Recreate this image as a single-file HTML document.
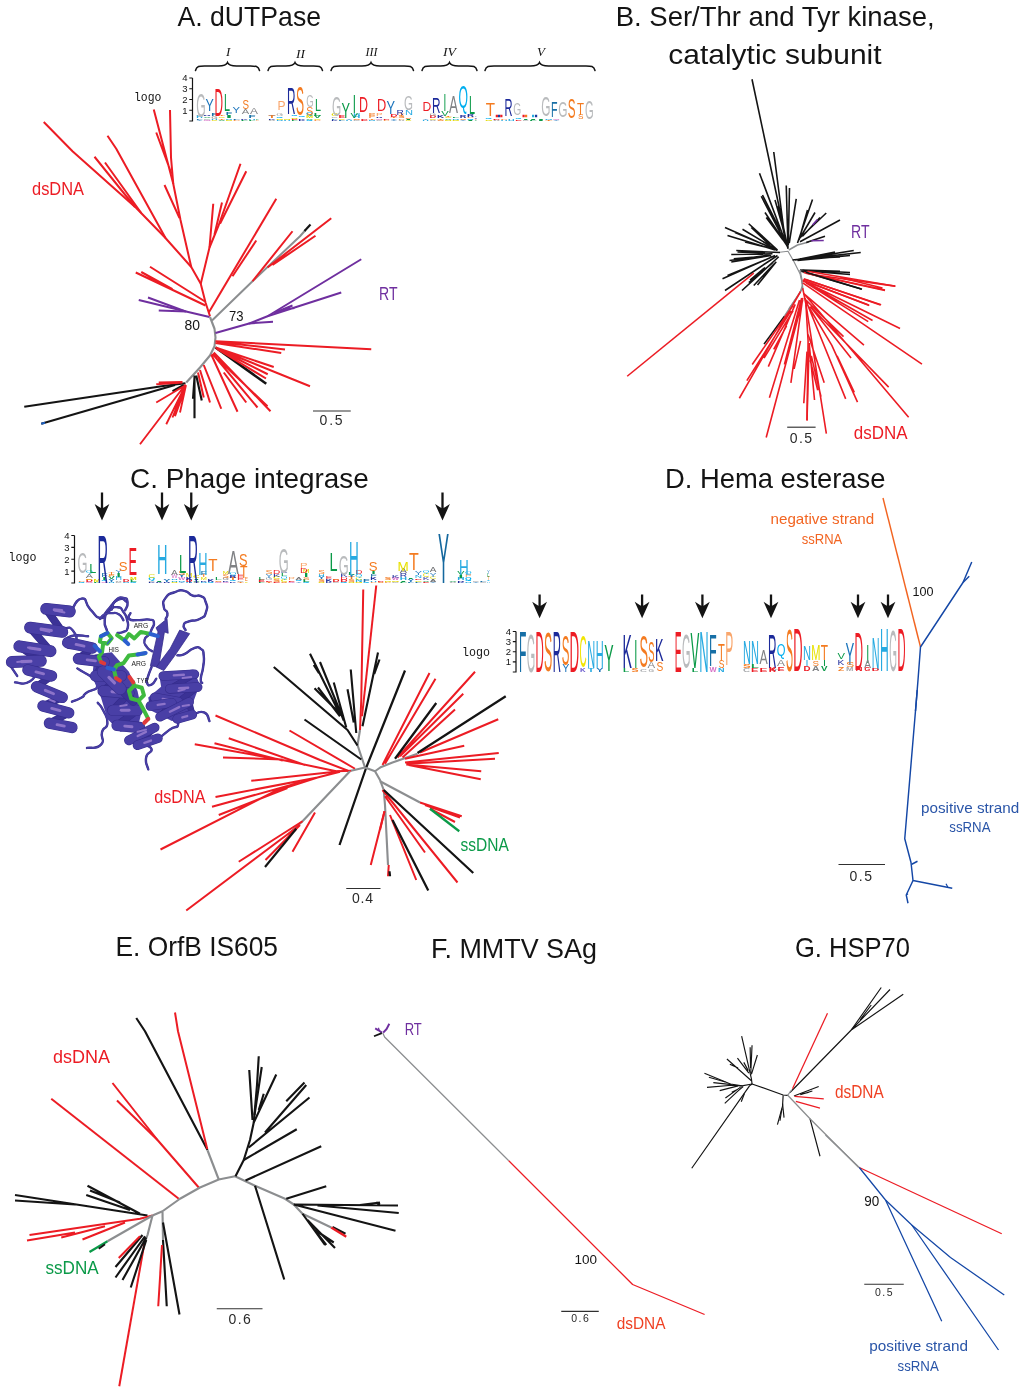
<!DOCTYPE html>
<html><head><meta charset="utf-8"><title>Figure</title>
<style>html,body{margin:0;padding:0;background:#fff}svg{display:block}text{font-family:"Liberation Sans",sans-serif}</style></head>
<body>
<svg width="1024" height="1391" viewBox="0 0 1024 1391">
<rect width="1024" height="1391" fill="#fff"/>
<text x="177.5" y="26" font-size="27.5" fill="#141414" style='font-family:"Liberation Sans", sans-serif' textLength="143.5" lengthAdjust="spacingAndGlyphs" >A. dUTPase</text>
<text x="226" y="56" font-size="13" fill="#141414" style='font-family:"Liberation Serif", serif' font-style="italic">I</text>
<text x="296" y="57.5" font-size="13" fill="#141414" style='font-family:"Liberation Serif", serif' font-style="italic" textLength="9" lengthAdjust="spacingAndGlyphs">II</text>
<text x="365.5" y="56" font-size="13" fill="#141414" style='font-family:"Liberation Serif", serif' font-style="italic" textLength="12" lengthAdjust="spacingAndGlyphs">III</text>
<text x="443" y="56" font-size="13" fill="#141414" style='font-family:"Liberation Serif", serif' font-style="italic" textLength="13" lengthAdjust="spacingAndGlyphs">IV</text>
<text x="537" y="56" font-size="13" fill="#141414" style='font-family:"Liberation Serif", serif' font-style="italic">V</text>
<path d="M195.5 70.5C196.5 66 199.5 66 204.5 66L218.5 66C223.5 66 226.5 65 227.5 62.5C228.5 65 231.5 66 236.5 66L250.5 66C255.5 66 258.5 66 259.5 70.5" stroke="#141414" stroke-width="1.5" fill="none" stroke-linecap="round"/>
<path d="M268 70.5C269 66 272 66 277 66L286 66C291 66 294 65 295 62.5C296 65 299 66 304 66L313.5 66C318.5 66 321.5 66 322.5 70.5" stroke="#141414" stroke-width="1.5" fill="none" stroke-linecap="round"/>
<path d="M331 70.5C332 66 335 66 340 66L362 66C367 66 370 65 371 62.5C372 65 375 66 380 66L404.5 66C409.5 66 412.5 66 413.5 70.5" stroke="#141414" stroke-width="1.5" fill="none" stroke-linecap="round"/>
<path d="M422 70.5C423 66 426 66 431 66L440.5 66C445.5 66 448.5 65 449.5 62.5C450.5 65 453.5 66 458.5 66L468 66C473 66 476 66 477 70.5" stroke="#141414" stroke-width="1.5" fill="none" stroke-linecap="round"/>
<path d="M485 70.5C486 66 489 66 494 66L530.5 66C535.5 66 538.5 65 539.5 62.5C540.5 65 543.5 66 548.5 66L586 66C591 66 594 66 595 70.5" stroke="#141414" stroke-width="1.5" fill="none" stroke-linecap="round"/>
<text x="187.5" y="81.42" font-size="9.5" fill="#141414" text-anchor="end" font-family='"Liberation Sans", sans-serif'>4</text>
<text x="187.5" y="92.17" font-size="9.5" fill="#141414" text-anchor="end" font-family='"Liberation Sans", sans-serif'>3</text>
<text x="187.5" y="102.92" font-size="9.5" fill="#141414" text-anchor="end" font-family='"Liberation Sans", sans-serif'>2</text>
<text x="187.5" y="113.67" font-size="9.5" fill="#141414" text-anchor="end" font-family='"Liberation Sans", sans-serif'>1</text>
<path d="M189.3 121L192.5 121L192.5 78M192.5 78L189.3 78M192.5 88.75L189.3 88.75M192.5 99.5L189.3 99.5M192.5 110.25L189.3 110.25" stroke="#141414" stroke-width="1.2" fill="none"/>
<text x="134" y="100.5" font-size="12" fill="#141414" style='font-family:"Liberation Mono", monospace' textLength="27.5" lengthAdjust="spacingAndGlyphs" >logo</text>
<text transform="matrix(0.0491 0 0 0.0081 196.3 121)" font-size="200" fill="#1c75bc" font-weight="bold">Y</text>
<text transform="matrix(0.0535 0 0 0.0087 196.3 119.68)" font-size="200" fill="#176fa6" font-weight="bold">F</text>
<text transform="matrix(0.0453 0 0 0.0128 196.3 118.27)" font-size="200" fill="#27aae1" font-weight="bold">H</text>
<text transform="matrix(0.0418 0 0 0.0094 196.3 116.29)" font-size="200" fill="#9a9c9e" font-weight="bold">G</text>
<text transform="matrix(0.0385 0 0 0.0065 203.42 121)" font-size="200" fill="#d671c6" font-weight="bold">W</text>
<text transform="matrix(0.0466 0 0 0.0113 203.42 119.88)" font-size="200" fill="#9a9c9e" font-weight="bold">G</text>
<text transform="matrix(0.0547 0 0 0.0110 203.42 118.1)" font-size="200" fill="#0b9a48" font-weight="bold">V</text>
<text transform="matrix(0.0505 0 0 0.0097 203.42 116.38)" font-size="200" fill="#1c2a9a" font-weight="bold">R</text>
<text transform="matrix(0.0446 0 0 0.0050 211.3 120.99)" font-size="200" fill="#e3d800" font-weight="bold">C</text>
<text transform="matrix(0.0446 0 0 0.0073 211.3 120.09)" font-size="200" fill="#27aae1" font-weight="bold">H</text>
<text transform="matrix(0.0412 0 0 0.0166 211.3 118.85)" font-size="200" fill="#9a9c9e" font-weight="bold">G</text>
<text transform="matrix(0.0526 0 0 0.0164 211.3 116.32)" font-size="200" fill="#176fa6" font-weight="bold">F</text>
<text transform="matrix(0.0522 0 0 0.0063 218.32 121)" font-size="200" fill="#0b9a48" font-weight="bold">V</text>
<text transform="matrix(0.0569 0 0 0.0117 218.32 119.93)" font-size="200" fill="#f47b20" font-weight="bold">T</text>
<text transform="matrix(0.0482 0 0 0.0120 218.32 118.09)" font-size="200" fill="#e3d800" font-weight="bold">C</text>
<text transform="matrix(0.0569 0 0 0.0097 218.32 116.22)" font-size="200" fill="#f47b20" font-weight="bold">T</text>
<text transform="matrix(0.0390 0 0 0.0063 225.86 121)" font-size="200" fill="#e3d800" font-weight="bold">M</text>
<text transform="matrix(0.0452 0 0 0.0127 225.86 119.93)" font-size="200" fill="#27aae1" font-weight="bold">N</text>
<text transform="matrix(0.1163 0 0 0.0166 225.86 117.98)" font-size="200" fill="#0b9a48" font-weight="bold">I</text>
<text transform="matrix(0.0534 0 0 0.0147 225.86 115.49)" font-size="200" fill="#176fa6" font-weight="bold">F</text>
<text transform="matrix(0.0543 0 0 0.0069 232.97 121)" font-size="200" fill="#f7964f" font-weight="bold">P</text>
<text transform="matrix(0.0592 0 0 0.0122 232.97 119.85)" font-size="200" fill="#176fa6" font-weight="bold">F</text>
<text transform="matrix(0.0589 0 0 0.0066 240.8 121)" font-size="200" fill="#0b9a48" font-weight="bold">L</text>
<text transform="matrix(0.0499 0 0 0.0094 240.8 119.89)" font-size="200" fill="#1c2a9a" font-weight="bold">K</text>
<text transform="matrix(0.0578 0 0 0.0055 248.58 121)" font-size="200" fill="#0b9a48" font-weight="bold">L</text>
<text transform="matrix(0.0489 0 0 0.0103 248.58 120.05)" font-size="200" fill="#27aae1" font-weight="bold">H</text>
<text transform="matrix(0.0578 0 0 0.0151 248.58 118.43)" font-size="200" fill="#176fa6" font-weight="bold">F</text>
<text transform="matrix(0.0186 0 0 0.0086 256.23 121)" font-size="200" fill="#f7964f" font-weight="bold">P</text>
<text transform="matrix(0.0203 0 0 0.0106 256.23 119.61)" font-size="200" fill="#0b9a48" font-weight="bold">L</text>
<text transform="matrix(0.0509 0 0 0.0085 268.3 121)" font-size="200" fill="#6d6e71" font-weight="bold">A</text>
<text transform="matrix(0.0509 0 0 0.0078 268.3 119.63)" font-size="200" fill="#1c2a9a" font-weight="bold">K</text>
<text transform="matrix(0.0601 0 0 0.0151 268.3 118.35)" font-size="200" fill="#f47b20" font-weight="bold">T</text>
<text transform="matrix(0.0509 0 0 0.0108 268.3 116.07)" font-size="200" fill="#6d6e71" font-weight="bold">A</text>
<text transform="matrix(0.0484 0 0 0.0056 276.24 121)" font-size="200" fill="#27aae1" font-weight="bold">N</text>
<text transform="matrix(0.0417 0 0 0.0109 276.24 120.02)" font-size="200" fill="#e3d800" font-weight="bold">M</text>
<text transform="matrix(0.0447 0 0 0.0104 276.24 117.91)" font-size="200" fill="#00aeef" font-weight="bold">Q</text>
<text transform="matrix(0.0447 0 0 0.0173 276.24 116.22)" font-size="200" fill="#9a9c9e">G</text>
<text transform="matrix(0.0469 0 0 0.0084 283.8 121)" font-size="200" fill="#27aae1" font-weight="bold">H</text>
<text transform="matrix(0.0404 0 0 0.0097 283.8 119.63)" font-size="200" fill="#e3d800" font-weight="bold">M</text>
<text transform="matrix(0.0538 0 0 0.0059 291.15 121)" font-size="200" fill="#0b9a48" font-weight="bold">L</text>
<text transform="matrix(0.0494 0 0 0.0091 291.15 119.98)" font-size="200" fill="#ed1c24" font-weight="bold">E</text>
<text transform="matrix(0.0393 0 0 0.0118 291.15 118.52)" font-size="200" fill="#e3d800" font-weight="bold">M</text>
<text transform="matrix(0.0421 0 0 0.0081 291.15 116.38)" font-size="200" fill="#00aeef" font-weight="bold">Q</text>
<text transform="matrix(0.0499 0 0 0.0077 298.32 121)" font-size="200" fill="#1c2a9a" font-weight="bold">K</text>
<text transform="matrix(0.0499 0 0 0.0118 298.32 119.73)" font-size="200" fill="#1c2a9a" font-weight="bold">K</text>
<text transform="matrix(0.0460 0 0 0.0125 298.32 117.41)" font-size="200" fill="#00aeef" font-weight="bold">Q</text>
<text transform="matrix(0.0457 0 0 0.0059 306.1 120.77)" font-size="200" fill="#00aeef" font-weight="bold">Q</text>
<text transform="matrix(0.0537 0 0 0.0110 306.1 119.74)" font-size="200" fill="#0b9a48" font-weight="bold">V</text>
<text transform="matrix(0.0427 0 0 0.0167 306.1 118.02)" font-size="200" fill="#e3d800" font-weight="bold">M</text>
<text transform="matrix(0.0457 0 0 0.0129 306.1 115)" font-size="200" fill="#00aeef" font-weight="bold">Q</text>
<text transform="matrix(0.0547 0 0 0.0067 313.84 121)" font-size="200" fill="#f7964f" font-weight="bold">P</text>
<text transform="matrix(0.0506 0 0 0.0111 313.84 119.85)" font-size="200" fill="#e3d800" font-weight="bold">C</text>
<text transform="matrix(0.0547 0 0 0.0129 313.84 118.09)" font-size="200" fill="#0b9a48" font-weight="bold">V</text>
<text transform="matrix(0.0597 0 0 0.0170 313.84 116.1)" font-size="200" fill="#0b9a48" font-weight="bold">L</text>
<text transform="matrix(0.0460 0 0 0.0070 331.3 121)" font-size="200" fill="#1c2a9a" font-weight="bold">K</text>
<text transform="matrix(0.0543 0 0 0.0126 331.3 119.83)" font-size="200" fill="#176fa6" font-weight="bold">F</text>
<text transform="matrix(0.0425 0 0 0.0090 331.3 117.88)" font-size="200" fill="#9a9c9e" font-weight="bold">G</text>
<text transform="matrix(0.0460 0 0 0.0131 331.3 116.39)" font-size="200" fill="#e3d800" font-weight="bold">C</text>
<text transform="matrix(0.0543 0 0 0.0087 338.53 121)" font-size="200" fill="#176fa6" font-weight="bold">F</text>
<text transform="matrix(0.0460 0 0 0.0101 338.53 119.58)" font-size="200" fill="#e3d800" font-weight="bold">C</text>
<text transform="matrix(0.0498 0 0 0.0143 338.53 117.97)" font-size="200" fill="#ed1c24" font-weight="bold">E</text>
<text transform="matrix(0.0454 0 0 0.0084 345.75 121)" font-size="200" fill="#27aae1" font-weight="bold">H</text>
<text transform="matrix(0.0492 0 0 0.0115 345.75 119.64)" font-size="200" fill="#1c75bc" font-weight="bold">Y</text>
<text transform="matrix(0.0470 0 0 0.0051 352.89 120.99)" font-size="200" fill="#9a9c9e" font-weight="bold">G</text>
<text transform="matrix(0.0552 0 0 0.0117 352.89 120.06)" font-size="200" fill="#f47b20" font-weight="bold">S</text>
<text transform="matrix(0.0510 0 0 0.0149 352.89 118.22)" font-size="200" fill="#27aae1" font-weight="bold">H</text>
<text transform="matrix(0.0510 0 0 0.0180 352.89 115.96)" font-size="200" fill="#27aae1">H</text>
<text transform="matrix(0.0535 0 0 0.0072 360.83 121)" font-size="200" fill="#ed1c24" font-weight="bold">E</text>
<text transform="matrix(0.0494 0 0 0.0123 360.83 119.81)" font-size="200" fill="#ed1c24" font-weight="bold">D</text>
<text transform="matrix(0.0478 0 0 0.0060 368.54 121)" font-size="200" fill="#27aae1" font-weight="bold">N</text>
<text transform="matrix(0.0564 0 0 0.0118 368.54 119.97)" font-size="200" fill="#f47b20" font-weight="bold">T</text>
<text transform="matrix(0.0517 0 0 0.0159 368.54 118.15)" font-size="200" fill="#f7964f" font-weight="bold">P</text>
<text transform="matrix(0.0517 0 0 0.0146 368.54 115.75)" font-size="200" fill="#f7964f" font-weight="bold">P</text>
<text transform="matrix(0.0424 0 0 0.0061 376.02 120.99)" font-size="200" fill="#9a9c9e" font-weight="bold">G</text>
<text transform="matrix(0.0350 0 0 0.0122 376.02 119.93)" font-size="200" fill="#d671c6" font-weight="bold">W</text>
<text transform="matrix(0.0460 0 0 0.0101 376.02 118.05)" font-size="200" fill="#1c2a9a" font-weight="bold">R</text>
<text transform="matrix(0.0498 0 0 0.0179 376.02 116.45)" font-size="200" fill="#f7964f">P</text>
<text transform="matrix(0.0488 0 0 0.0074 383.24 121)" font-size="200" fill="#f7964f" font-weight="bold">P</text>
<text transform="matrix(0.0451 0 0 0.0088 383.24 119.77)" font-size="200" fill="#ed1c24" font-weight="bold">D</text>
<text transform="matrix(0.0544 0 0 0.0087 390.34 121)" font-size="200" fill="#1c75bc" font-weight="bold">Y</text>
<text transform="matrix(0.0544 0 0 0.0092 390.34 119.61)" font-size="200" fill="#1c75bc" font-weight="bold">Y</text>
<text transform="matrix(0.0593 0 0 0.0100 390.34 118.13)" font-size="200" fill="#f47b20" font-weight="bold">T</text>
<text transform="matrix(0.0502 0 0 0.0129 390.34 116.55)" font-size="200" fill="#ed1c24" font-weight="bold">D</text>
<text transform="matrix(0.0447 0 0 0.0073 398.17 121)" font-size="200" fill="#6d6e71" font-weight="bold">A</text>
<text transform="matrix(0.0484 0 0 0.0094 398.17 119.79)" font-size="200" fill="#f7964f" font-weight="bold">P</text>
<text transform="matrix(0.0484 0 0 0.0159 398.17 118.26)" font-size="200" fill="#f47b20" font-weight="bold">S</text>
<text transform="matrix(0.0528 0 0 0.0188 398.17 115.83)" font-size="200" fill="#f47b20">T</text>
<text transform="matrix(0.0444 0 0 0.0053 405.21 120.99)" font-size="200" fill="#e3d800" font-weight="bold">C</text>
<text transform="matrix(0.1143 0 0 0.0074 405.21 120.05)" font-size="200" fill="#0b9a48" font-weight="bold">I</text>
<text transform="matrix(0.0481 0 0 0.0109 405.21 118.8)" font-size="200" fill="#f47b20" font-weight="bold">S</text>
<text transform="matrix(0.0460 0 0 0.0054 422.3 121)" font-size="200" fill="#27aae1" font-weight="bold">H</text>
<text transform="matrix(0.0498 0 0 0.0100 422.3 120.05)" font-size="200" fill="#1c75bc" font-weight="bold">Y</text>
<text transform="matrix(0.0471 0 0 0.0084 429.53 121)" font-size="200" fill="#6d6e71" font-weight="bold">A</text>
<text transform="matrix(0.0471 0 0 0.0083 429.53 119.62)" font-size="200" fill="#e3d800" font-weight="bold">C</text>
<text transform="matrix(0.0471 0 0 0.0155 429.53 118.26)" font-size="200" fill="#ed1c24" font-weight="bold">D</text>
<text transform="matrix(0.0435 0 0 0.0177 429.53 115.89)" font-size="200" fill="#9a9c9e">G</text>
<text transform="matrix(0.0542 0 0 0.0078 436.91 120.98)" font-size="200" fill="#f47b20" font-weight="bold">S</text>
<text transform="matrix(0.0591 0 0 0.0084 436.91 119.7)" font-size="200" fill="#f47b20" font-weight="bold">T</text>
<text transform="matrix(0.0501 0 0 0.0162 436.91 118.34)" font-size="200" fill="#1c2a9a" font-weight="bold">K</text>
<text transform="matrix(0.0419 0 0 0.0075 444.72 121)" font-size="200" fill="#e3d800" font-weight="bold">M</text>
<text transform="matrix(0.0526 0 0 0.0087 444.72 119.76)" font-size="200" fill="#0b9a48" font-weight="bold">V</text>
<text transform="matrix(0.0485 0 0 0.0092 444.72 118.35)" font-size="200" fill="#e3d800" font-weight="bold">C</text>
<text transform="matrix(0.0573 0 0 0.0088 444.72 116.86)" font-size="200" fill="#f47b20" font-weight="bold">T</text>
<text transform="matrix(0.0417 0 0 0.0083 452.32 121)" font-size="200" fill="#e3d800" font-weight="bold">M</text>
<text transform="matrix(0.0483 0 0 0.0084 452.32 119.66)" font-size="200" fill="#27aae1" font-weight="bold">N</text>
<text transform="matrix(0.0570 0 0 0.0124 452.32 118.3)" font-size="200" fill="#0b9a48" font-weight="bold">L</text>
<text transform="matrix(0.0500 0 0 0.0080 459.87 121)" font-size="200" fill="#1c75bc" font-weight="bold">Y</text>
<text transform="matrix(0.0500 0 0 0.0073 459.87 119.69)" font-size="200" fill="#f47b20" font-weight="bold">S</text>
<text transform="matrix(0.0462 0 0 0.0143 459.87 118.46)" font-size="200" fill="#1c2a9a" font-weight="bold">R</text>
<text transform="matrix(0.1260 0 0 0.0053 467.12 121)" font-size="200" fill="#0b9a48" font-weight="bold">I</text>
<text transform="matrix(0.0452 0 0 0.0084 467.12 119.74)" font-size="200" fill="#00aeef" font-weight="bold">Q</text>
<text transform="matrix(0.0531 0 0 0.0118 467.12 118.36)" font-size="200" fill="#f7964f" font-weight="bold">P</text>
<text transform="matrix(0.0490 0 0 0.0144 467.12 116.53)" font-size="200" fill="#1c2a9a" font-weight="bold">R</text>
<text transform="matrix(0.0144 0 0 0.0053 474.78 121)" font-size="200" fill="#0b9a48" font-weight="bold">V</text>
<text transform="matrix(0.0144 0 0 0.0089 474.78 120.07)" font-size="200" fill="#f7964f" font-weight="bold">P</text>
<text transform="matrix(0.0133 0 0 0.0108 474.78 118.65)" font-size="200" fill="#1c2a9a" font-weight="bold">R</text>
<text transform="matrix(0.0123 0 0 0.0113 474.78 116.94)" font-size="200" fill="#9a9c9e" font-weight="bold">G</text>
<text transform="matrix(0.0420 0 0 0.0085 485.3 121)" font-size="200" fill="#e3d800" font-weight="bold">M</text>
<text transform="matrix(0.0449 0 0 0.0057 485.3 119.41)" font-size="200" fill="#00aeef" font-weight="bold">Q</text>
<text transform="matrix(0.0497 0 0 0.0067 492.91 121)" font-size="200" fill="#6d6e71" font-weight="bold">A</text>
<text transform="matrix(0.0497 0 0 0.0099 492.91 119.88)" font-size="200" fill="#ed1c24" font-weight="bold">D</text>
<text transform="matrix(0.0469 0 0 0.0089 500.67 121)" font-size="200" fill="#27aae1" font-weight="bold">H</text>
<text transform="matrix(0.0508 0 0 0.0088 500.67 119.57)" font-size="200" fill="#f7964f" font-weight="bold">P</text>
<text transform="matrix(0.0461 0 0 0.0084 508.03 121)" font-size="200" fill="#27aae1" font-weight="bold">N</text>
<text transform="matrix(0.0461 0 0 0.0081 508.03 119.63)" font-size="200" fill="#27aae1" font-weight="bold">H</text>
<text transform="matrix(0.0492 0 0 0.0087 515.26 121)" font-size="200" fill="#ed1c24" font-weight="bold">E</text>
<text transform="matrix(0.0420 0 0 0.0070 515.26 119.33)" font-size="200" fill="#00aeef" font-weight="bold">Q</text>
<text transform="matrix(0.0418 0 0 0.0056 522.41 120.99)" font-size="200" fill="#9a9c9e" font-weight="bold">G</text>
<text transform="matrix(0.1164 0 0 0.0079 522.41 120)" font-size="200" fill="#0b9a48" font-weight="bold">I</text>
<text transform="matrix(0.0602 0 0 0.0064 529.53 121)" font-size="200" fill="#0b9a48" font-weight="bold">L</text>
<text transform="matrix(0.1311 0 0 0.0081 529.53 119.92)" font-size="200" fill="#0b9a48" font-weight="bold">I</text>
<text transform="matrix(0.1237 0 0 0.0083 537.47 121)" font-size="200" fill="#0b9a48" font-weight="bold">I</text>
<text transform="matrix(0.1237 0 0 0.0078 537.47 119.66)" font-size="200" fill="#0b9a48" font-weight="bold">I</text>
<text transform="matrix(0.0602 0 0 0.0090 545 121)" font-size="200" fill="#f47b20" font-weight="bold">T</text>
<text transform="matrix(0.0510 0 0 0.0073 545 119.55)" font-size="200" fill="#27aae1" font-weight="bold">N</text>
<text transform="matrix(0.0493 0 0 0.0063 552.94 121)" font-size="200" fill="#1c75bc" font-weight="bold">Y</text>
<text transform="matrix(0.0347 0 0 0.0082 552.94 119.93)" font-size="200" fill="#d671c6" font-weight="bold">W</text>
<text transform="matrix(0.0609 0 0 0.1637 196.25 116.67)" font-size="200" fill="#b9bbbd">G</text>
<text transform="matrix(0.0620 0 0 0.0815 205.5 111.25)" font-size="200" fill="#1c75bc">Y</text>
<text transform="matrix(0.0590 0 0 0.1938 214.5 116.25)" font-size="200" fill="#ed1c24">D</text>
<text transform="matrix(0.0541 0 0 0.1214 224 111.25)" font-size="200" fill="#0b9a48">L</text>
<text transform="matrix(0.0564 0 0 0.0453 232.5 112.5)" font-size="200" fill="#1c75bc">Y</text>
<text transform="matrix(0.0489 0 0 0.0634 242.5 108.87)" font-size="200" fill="#f47b20">S</text>
<text transform="matrix(0.0597 0 0 0.0453 250 113.75)" font-size="200" fill="#808285">A</text>
<text transform="matrix(0.0560 0 0 0.0344 241.75 113.75)" font-size="200" fill="#808285">A</text>
<text transform="matrix(0.0602 0 0 0.0598 277.5 109.5)" font-size="200" fill="#f9a66c">P</text>
<text transform="matrix(0.0590 0 0 0.1812 287 113.75)" font-size="200" fill="#1c2a9a">R</text>
<text transform="matrix(0.0602 0 0 0.2025 296 114.6)" font-size="200" fill="#f47b20">S</text>
<text transform="matrix(0.0481 0 0 0.0792 306.25 107.34)" font-size="200" fill="#b9bbbd">G</text>
<text transform="matrix(0.0526 0 0 0.0563 306.25 115.39)" font-size="200" fill="#f47b20">S</text>
<text transform="matrix(0.0541 0 0 0.0815 315 111.25)" font-size="200" fill="#0b9a48">L</text>
<text transform="matrix(0.0593 0 0 0.1408 332 115.97)" font-size="200" fill="#b9bbbd">G</text>
<text transform="matrix(0.0639 0 0 0.1087 341.5 117.5)" font-size="200" fill="#0b9a48">Y</text>
<text transform="matrix(0.0580 0 0 0.1304 352.75 113)" font-size="200" fill="#0b9a48">I</text>
<text transform="matrix(0.0564 0 0 0.0362 350.5 118)" font-size="200" fill="#0b9a48">V</text>
<text transform="matrix(0.0625 0 0 0.1141 359 112)" font-size="200" fill="#ed1c24">D</text>
<text transform="matrix(0.0642 0 0 0.0851 377 110.5)" font-size="200" fill="#ed1c24">D</text>
<text transform="matrix(0.0639 0 0 0.0906 386.5 113.75)" font-size="200" fill="#1c75bc">Y</text>
<text transform="matrix(0.0503 0 0 0.0399 396.5 115)" font-size="200" fill="#1c2a9a">R</text>
<text transform="matrix(0.0577 0 0 0.1056 404 109.79)" font-size="200" fill="#b9bbbd">G</text>
<text transform="matrix(0.0556 0 0 0.0326 405 115)" font-size="200" fill="#27aae1">N</text>
<text transform="matrix(0.0608 0 0 0.0598 422.5 111.25)" font-size="200" fill="#ed1c24">D</text>
<text transform="matrix(0.0590 0 0 0.1087 432 112.5)" font-size="200" fill="#1c2a9a">R</text>
<text transform="matrix(0.0491 0 0 0.1214 443.5 110.5)" font-size="200" fill="#0b9a48">I</text>
<text transform="matrix(0.0564 0 0 0.0362 441.25 115.5)" font-size="200" fill="#0b9a48">V</text>
<text transform="matrix(0.0672 0 0 0.1232 449 112.5)" font-size="200" fill="#808285">A</text>
<text transform="matrix(0.0609 0 0 0.1559 458.5 108.08)" font-size="200" fill="#00aeef">Q</text>
<text transform="matrix(0.0541 0 0 0.1268 469 113.75)" font-size="200" fill="#0b9a48">L</text>
<text transform="matrix(0.0758 0 0 0.0906 485.75 116.25)" font-size="200" fill="#f47b20">T</text>
<text transform="matrix(0.0556 0 0 0.1214 504.5 116.25)" font-size="200" fill="#1c2a9a">R</text>
<text transform="matrix(0.0513 0 0 0.0792 513.25 114.84)" font-size="200" fill="#b9bbbd">G</text>
<text transform="matrix(0.0593 0 0 0.1356 541.25 115.98)" font-size="200" fill="#b9bbbd">G</text>
<text transform="matrix(0.0533 0 0 0.1141 551 117)" font-size="200" fill="#176fa6">F</text>
<text transform="matrix(0.0593 0 0 0.1144 558.25 117.27)" font-size="200" fill="#b9bbbd">G</text>
<text transform="matrix(0.0583 0 0 0.1408 567.75 118.47)" font-size="200" fill="#f47b20">S</text>
<text transform="matrix(0.0574 0 0 0.0870 577 114.5)" font-size="200" fill="#f47b20">T</text>
<text transform="matrix(0.0414 0 0 0.0352 578 119.43)" font-size="200" fill="#f47b20">S</text>
<text transform="matrix(0.0561 0 0 0.1268 585 119)" font-size="200" fill="#b9bbbd">G</text>
<rect x="495.75" y="114.75" width="2.2" height="2.5" fill="#ed1c24"/>
<rect x="498" y="114.75" width="2.2" height="2.5" fill="#1b3a9b"/>
<rect x="500.25" y="114.75" width="2.2" height="2.5" fill="#ed1c24"/>
<rect x="522.5" y="114.75" width="2.2" height="2.5" fill="#ed1c24"/>
<rect x="525" y="114.75" width="2.2" height="2.5" fill="#f47b20"/>
<rect x="532" y="114.75" width="2.2" height="2.5" fill="#27aae1"/>
<rect x="535" y="114.75" width="2.2" height="2.5" fill="#1b3a9b"/>
<text x="32" y="195" font-size="18" fill="#ec1c24" style='font-family:"Liberation Sans", sans-serif' textLength="52" lengthAdjust="spacingAndGlyphs" >dsDNA</text>
<text x="379" y="300" font-size="18" fill="#6f2f9f" style='font-family:"Liberation Sans", sans-serif' textLength="18.5" lengthAdjust="spacingAndGlyphs" >RT</text>
<text x="184.5" y="330" font-size="14.5" fill="#141414" style='font-family:"Liberation Sans", sans-serif' textLength="15.5" lengthAdjust="spacingAndGlyphs" >80</text>
<text x="229" y="320.5" font-size="14.5" fill="#141414" style='font-family:"Liberation Sans", sans-serif' textLength="14.5" lengthAdjust="spacingAndGlyphs" >73</text>
<text x="319.6" y="425" font-size="14" fill="#2a2a2a" style='font-family:"Liberation Sans", sans-serif' textLength="23" lengthAdjust="spacing" >0.5</text>
<polyline points="313,411 350.75,411" stroke="#303030" stroke-width="1.15" fill="none" stroke-linejoin="round" stroke-linecap="butt"/>
<polyline points="43.75,122 72.5,151.25 136.25,208 165,237.5 191.25,267 200.75,283.75 205.5,302.5 210,316.25" stroke="#ec1c24" stroke-width="2" fill="none" stroke-linejoin="round" stroke-linecap="butt"/>
<path d="M94.5 156.75L135 207M105 162.5L141.25 213" stroke="#ec1c24" stroke-width="2" fill="none"/>
<polyline points="107.5,135.75 116.25,148.75 165.5,238" stroke="#ec1c24" stroke-width="2" fill="none" stroke-linejoin="round" stroke-linecap="butt"/>
<polyline points="191.25,267 180.5,220 173.25,183.75 171,157.5 170,110" stroke="#ec1c24" stroke-width="2" fill="none" stroke-linejoin="round" stroke-linecap="butt"/>
<path d="M153.75 109.5L173.25 183.75M156.25 132.5L171.5 173.75M164.5 185L179.5 218" stroke="#ec1c24" stroke-width="2" fill="none"/>
<polyline points="200.75,283.75 209.5,247.5 218.75,225 240.5,163.75" stroke="#ec1c24" stroke-width="2" fill="none" stroke-linejoin="round" stroke-linecap="butt"/>
<path d="M213.25 203.75L209.5 247.5M222 202.5L214.5 234.5M246.25 171.25L220 223.75" stroke="#ec1c24" stroke-width="2" fill="none"/>
<path d="M135.75 272.5L205.5 305.5M141.25 272L172.5 289.25M150 266.75L205 301.5" stroke="#ec1c24" stroke-width="2" fill="none"/>
<polyline points="209.5,317 185,311.25 138.75,300" stroke="#6f2f9f" stroke-width="2" fill="none" stroke-linejoin="round" stroke-linecap="butt"/>
<path d="M148 297.5L185 311.25M158.75 310.5L186.25 311.5" stroke="#6f2f9f" stroke-width="2" fill="none"/>
<polyline points="208.75,312.5 276.25,198.75" stroke="#ec1c24" stroke-width="2" fill="none" stroke-linejoin="round" stroke-linecap="butt"/>
<polyline points="256.25,240.5 232.5,276.25" stroke="#ec1c24" stroke-width="2" fill="none" stroke-linejoin="round" stroke-linecap="butt"/>
<polyline points="210,317 214.5,328.75 215.5,337.5 214.5,346.25 210,355.5 200,367.5 186.25,382.5" stroke="#8c8e90" stroke-width="2.13" fill="none" stroke-linejoin="round" stroke-linecap="butt"/>
<polyline points="212,320.5 252.5,281.25 300,236.25 305.5,230" stroke="#8c8e90" stroke-width="2" fill="none" stroke-linejoin="round" stroke-linecap="butt"/>
<polyline points="304.5,231 310.5,224.5" stroke="#141414" stroke-width="2.13" fill="none" stroke-linejoin="round" stroke-linecap="butt"/>
<path d="M252.5 281.25L292.5 231.25M267.5 267.5L331.25 218.25M272.5 265L315.5 235.75" stroke="#ec1c24" stroke-width="2" fill="none"/>
<polyline points="215.5,333 250,323.25 267.5,316.25 361.25,259.25" stroke="#6f2f9f" stroke-width="2" fill="none" stroke-linejoin="round" stroke-linecap="butt"/>
<path d="M267.5 316.25L341.25 292.5M248.75 323.5L273 321.75M275 312.5L292.5 305.5M280 310.5L294.5 308" stroke="#6f2f9f" stroke-width="2" fill="none"/>
<path d="M215.5 341.25L371.25 349.25M215.5 341.75L285 349.5M215.5 343L281.25 353" stroke="#ec1c24" stroke-width="2" fill="none"/>
<polyline points="215.5,347.5 266.25,383.75" stroke="#141414" stroke-width="2.53" fill="none" stroke-linejoin="round" stroke-linecap="butt"/>
<path d="M215.5 347.5L273.75 367M217.5 348.75L310 386.25M216.5 348.25L267.75 374.25M217 349L266 378.5" stroke="#ec1c24" stroke-width="2" fill="none"/>
<path d="M211.25 354.5L237.5 411.75M212.5 353.75L257.5 407.5M213.75 352.5L270.5 411.25M217.5 358.75L267.5 406.25M223.75 372.5L246.25 402.5M203.75 365L221.25 408.75M200 370L210 402.5M198 372.5L203.75 397.5" stroke="#ec1c24" stroke-width="2" fill="none"/>
<path d="M194.5 375.5L194.5 418.25M196.25 375.5L201.75 400.5M193 398.75L194.5 377.5" stroke="#141414" stroke-width="2.13" fill="none"/>
<polyline points="24.25,406.75 165,385.75 185.5,383.25" stroke="#141414" stroke-width="2.13" fill="none" stroke-linejoin="round" stroke-linecap="butt"/>
<polyline points="41.25,423.75 175,385" stroke="#141414" stroke-width="2.13" fill="none" stroke-linejoin="round" stroke-linecap="butt"/>
<polyline points="41.25,423.75 45,422.75" stroke="#1c5fc0" stroke-width="2.13" fill="none" stroke-linejoin="round" stroke-linecap="butt"/>
<path d="M156.25 384.25L182.5 382.5M158.75 382.5L182.5 382" stroke="#ec1c24" stroke-width="2.13" fill="none"/>
<polyline points="172.5,391.25 183.75,385" stroke="#141414" stroke-width="2.13" fill="none" stroke-linejoin="round" stroke-linecap="butt"/>
<path d="M140 444.25L185.5 384.5M156.25 402.5L183.75 386.25M166.25 424.25L185 386.25M172.5 417.5L184.5 387.5M175 416.25L185.5 387.5M180 412.5L186 385" stroke="#ec1c24" stroke-width="1.86" fill="none"/>
<text x="615.7" y="25.7" font-size="27.5" fill="#141414" style='font-family:"Liberation Sans", sans-serif' textLength="318.9" lengthAdjust="spacingAndGlyphs" >B. Ser/Thr and Tyr kinase,</text>
<text x="668.3" y="64" font-size="27.5" fill="#141414" style='font-family:"Liberation Sans", sans-serif' textLength="213.3" lengthAdjust="spacingAndGlyphs" >catalytic subunit</text>
<text x="851" y="238" font-size="18" fill="#6f2f9f" style='font-family:"Liberation Sans", sans-serif' textLength="18.5" lengthAdjust="spacingAndGlyphs" >RT</text>
<text x="853.75" y="438.75" font-size="18" fill="#ec1c24" style='font-family:"Liberation Sans", sans-serif' textLength="53.75" lengthAdjust="spacingAndGlyphs" >dsDNA</text>
<text x="789.7" y="443.4" font-size="14" fill="#2a2a2a" style='font-family:"Liberation Sans", sans-serif' textLength="22.3" lengthAdjust="spacing" >0.5</text>
<polyline points="787.2,427.2 815.6,427.2" stroke="#303030" stroke-width="1.15" fill="none" stroke-linejoin="round" stroke-linecap="butt"/>
<polyline points="777.5,252.5 788,251.25 793.75,261.25 800,273.75 802.5,285 800,292.5 788.75,308.75" stroke="#8c8e90" stroke-width="1.15" fill="none" stroke-linejoin="round" stroke-linecap="butt"/>
<polyline points="788.75,250 797.5,245 808.75,242" stroke="#8c8e90" stroke-width="1.5" fill="none" stroke-linejoin="round" stroke-linecap="butt"/>
<path d="M752 79.25L788 248.75M773.75 152L784.5 235M759.5 173.25L787 246.25M761.25 196.25L785.5 243M765 212.5L786.25 244.5M762.5 195L780.5 230.5M786.25 185.5L788 248.75M789.5 188L788.25 245M796.25 198.75L789.25 243M778 206.25L786.25 243M766.25 217.5L783 240M775 200L785 235M812.5 199.5L797.5 243M815 212.5L800 238M826.25 213L801.25 236.75M840 220L800 241.75M825 236.25L806.25 242.5M820 217.5L802.5 236.25M807.5 210L799 240" stroke="#141414" stroke-width="1.6" fill="none"/>
<path d="M812.5 225L817.5 219.5M811.25 240.75L823.75 240.5" stroke="#6f2f9f" stroke-width="1.7" fill="none"/>
<path d="M725 227.5L777.5 250.5M727.5 235.5L775 250M748.75 223.75L777.5 250M742.5 229.25L776.25 249.5M745 242L772.5 248.75M751.25 227.5L770 245M735 232.5L765 245M736.25 250.5L780 252.5M731.25 254.5L772.5 253.75M729.5 260.5L770 255M731.25 262L771.25 255.5M737.5 252L765 253.25M733.75 258.75L765 256.25M722.5 278.75L775 255.5M725 290.5L777.5 255.5M742 290.5L778.75 256.75M753.75 285.5L775 263M757.5 285L776.25 261.75M748.75 282.5L772.5 263M727.5 275.5L765 260M750 280L765 267.5" stroke="#141414" stroke-width="1.6" fill="none"/>
<path d="M792.5 260L860.75 252.5M795 260L853.75 250.5M797.5 260.5L850 255.5M800 258.75L840 257M797.5 259.5L835 252M800 270L850 272.5M801.25 271.25L862 289.25M802.5 270L840 271.25M803.75 270.75L850 274.5" stroke="#141414" stroke-width="1.6" fill="none"/>
<path d="M807.5 271.25L895.5 286.25M803.75 272.5L885 290M803.75 278.75L880.5 305M802.5 280L868.75 305M840 277.5L882.5 288" stroke="#ec1c24" stroke-width="1.6" fill="none"/>
<polyline points="627.19,376.25 753.75,273.12" stroke="#ec1c24" stroke-width="1.6" fill="none" stroke-linejoin="round" stroke-linecap="butt"/>
<polyline points="799.92,270 801.64,278.59 802.72,288.26 784.45,316.19" stroke="#8c8e90" stroke-width="1.5" fill="none" stroke-linejoin="round" stroke-linecap="butt"/>
<polyline points="764.04,344.12 784.45,316.19" stroke="#141414" stroke-width="1.6" fill="none" stroke-linejoin="round" stroke-linecap="butt"/>
<polyline points="802.72,288.26 805.94,304.38 808.09,340.9 807.01,420.39" stroke="#ec1c24" stroke-width="1.6" fill="none" stroke-linejoin="round" stroke-linecap="butt"/>
<path d="M739.34 398.26L800.57 291.48M746.86 380.65L790.9 310.82M752.23 364.53L793.05 305.45M764.04 358.09L793.05 310.82M766.19 437.58L802.72 300.08M769.41 397.83L799.49 300.08M768.34 366.68L795.2 304.38M773.71 349.49L786.6 325.86M784.45 364.53L801.64 297.93M790.9 382.79L802.72 297.93M794.12 368.83L800.57 340.9M807.01 420.39L809.16 343.05M814.53 399.98L809.16 343.05M817.75 390.31L810.24 360.24M820.98 396.76L811.31 355.94M824.2 382.79L808.09 334.45M826.35 433.71L805.94 304.38M845.68 398.91L804.86 297.93M857.5 402.13L831.72 345.2M831.72 345.2L805.94 302.23M854.28 392.46L837.09 355.94M851.06 358.09L810.24 306.52M843.54 336.6L805.94 300.08M863.95 345.2L803.79 293.63M888.65 387.09L810.24 306.52M908.63 417.17L804.86 294.71M921.96 364.1L802.72 282.89M900.04 328.44L802.72 280.74M881.13 304.81L805.94 279.67M869.32 305.45L810.24 282.89M872.54 320.49L810.24 285.04M868.24 321.56L805.94 282.89M895.1 286.11L810.24 274.3M885 290.41L805.94 273.22M803.79 403.2L807.01 351.64" stroke="#ec1c24" stroke-width="1.6" fill="none"/>
<polyline points="861.37,288.91 805.94,272.15" stroke="#141414" stroke-width="1.6" fill="none" stroke-linejoin="round" stroke-linecap="butt"/>
<path d="M70.9 611.48C74.48 607.19 75.2 599.31 81.64 598.59C88.09 597.88 83.79 602.89 90.24 609.34C96.68 615.78 95.25 617.57 100.98 617.93C106.71 618.29 101.69 616.5 107.42 610.41C113.15 604.32 111.72 602.53 118.17 599.67C124.61 596.8 123.89 601.1 126.76 601.82" stroke="#352c8c" stroke-width="2.4" fill="none" stroke-linecap="round" stroke-linejoin="round"/>
<path d="M70.9 611.48C74.48 607.19 75.2 599.31 81.64 598.59C88.09 597.88 83.79 602.89 90.24 609.34C96.68 615.78 95.25 617.57 100.98 617.93C106.71 618.29 101.69 616.5 107.42 610.41C113.15 604.32 111.72 602.53 118.17 599.67C124.61 596.8 123.89 601.1 126.76 601.82" stroke="#493fa6" stroke-width="1.6" fill="none" stroke-linecap="round" stroke-linejoin="round"/>
<path d="M58.01 632.97C60.16 631.54 59.44 629.39 64.45 628.67C69.47 627.96 69.11 625.81 73.05 630.82C76.99 635.83 76.99 637.98 76.27 643.71C75.55 649.44 74.12 648.01 70.9 648.01C67.68 648.01 66.6 647.65 66.6 643.71C66.6 639.77 63.74 638.7 70.9 636.19C78.06 633.69 82.36 636.19 88.09 636.19" stroke="#352c8c" stroke-width="2.4" fill="none" stroke-linecap="round" stroke-linejoin="round"/>
<path d="M58.01 632.97C60.16 631.54 59.44 629.39 64.45 628.67C69.47 627.96 69.11 625.81 73.05 630.82C76.99 635.83 76.99 637.98 76.27 643.71C75.55 649.44 74.12 648.01 70.9 648.01C67.68 648.01 66.6 647.65 66.6 643.71C66.6 639.77 63.74 638.7 70.9 636.19C78.06 633.69 82.36 636.19 88.09 636.19" stroke="#493fa6" stroke-width="1.6" fill="none" stroke-linecap="round" stroke-linejoin="round"/>
<path d="M15.04 682.38C20.05 682.03 22.56 686.32 30.08 681.31C37.6 676.3 35.09 672 37.6 667.34" stroke="#352c8c" stroke-width="2.4" fill="none" stroke-linecap="round" stroke-linejoin="round"/>
<path d="M15.04 682.38C20.05 682.03 22.56 686.32 30.08 681.31C37.6 676.3 35.09 672 37.6 667.34" stroke="#493fa6" stroke-width="1.6" fill="none" stroke-linecap="round" stroke-linejoin="round"/>
<path d="M193.36 714.61C196.94 713.89 198.73 710.31 204.1 712.46C209.47 714.61 207.68 718.19 209.47 721.06" stroke="#352c8c" stroke-width="2.4" fill="none" stroke-linecap="round" stroke-linejoin="round"/>
<path d="M193.36 714.61C196.94 713.89 198.73 710.31 204.1 712.46C209.47 714.61 207.68 718.19 209.47 721.06" stroke="#493fa6" stroke-width="1.6" fill="none" stroke-linecap="round" stroke-linejoin="round"/>
<path d="M148.24 769.4C147.53 765.46 145.02 764.38 146.1 757.58C147.17 750.78 152.9 753.28 151.47 748.99C150.03 744.69 145.02 746.12 141.8 744.69" stroke="#352c8c" stroke-width="2.4" fill="none" stroke-linecap="round" stroke-linejoin="round"/>
<path d="M148.24 769.4C147.53 765.46 145.02 764.38 146.1 757.58C147.17 750.78 152.9 753.28 151.47 748.99C150.03 744.69 145.02 746.12 141.8 744.69" stroke="#493fa6" stroke-width="1.6" fill="none" stroke-linecap="round" stroke-linejoin="round"/>
<path d="M87.01 747.91C91.67 746.84 95.96 750.06 100.98 744.69C105.99 739.32 99.9 738.96 102.05 731.8C104.2 724.64 107.06 730.37 107.42 723.2C107.78 716.04 106.35 717.12 103.13 710.31C99.9 703.51 99.55 705.3 97.75 702.79" stroke="#352c8c" stroke-width="2.4" fill="none" stroke-linecap="round" stroke-linejoin="round"/>
<path d="M87.01 747.91C91.67 746.84 95.96 750.06 100.98 744.69C105.99 739.32 99.9 738.96 102.05 731.8C104.2 724.64 107.06 730.37 107.42 723.2C107.78 716.04 106.35 717.12 103.13 710.31C99.9 703.51 99.55 705.3 97.75 702.79" stroke="#493fa6" stroke-width="1.6" fill="none" stroke-linecap="round" stroke-linejoin="round"/>
<path d="M77.34 668.42C83.79 673.43 93.82 675.22 96.68 683.46C99.55 691.69 90.95 688.47 85.94 693.13C80.93 697.78 86.3 694.56 81.64 697.42C76.99 700.29 75.2 700.29 71.97 701.72" stroke="#352c8c" stroke-width="2.4" fill="none" stroke-linecap="round" stroke-linejoin="round"/>
<path d="M77.34 668.42C83.79 673.43 93.82 675.22 96.68 683.46C99.55 691.69 90.95 688.47 85.94 693.13C80.93 697.78 86.3 694.56 81.64 697.42C76.99 700.29 75.2 700.29 71.97 701.72" stroke="#493fa6" stroke-width="1.6" fill="none" stroke-linecap="round" stroke-linejoin="round"/>
<path d="M171.88 710.31C174.03 714.61 179.04 716.76 178.32 723.2C177.61 729.65 176.17 724.64 169.73 729.65C163.28 734.66 162.57 735.38 158.99 738.24" stroke="#352c8c" stroke-width="2.4" fill="none" stroke-linecap="round" stroke-linejoin="round"/>
<path d="M171.88 710.31C174.03 714.61 179.04 716.76 178.32 723.2C177.61 729.65 176.17 724.64 169.73 729.65C163.28 734.66 162.57 735.38 158.99 738.24" stroke="#493fa6" stroke-width="1.6" fill="none" stroke-linecap="round" stroke-linejoin="round"/>
<path d="M8.59 663.05C11.46 667.34 14.32 671.64 17.19 675.94" stroke="#352c8c" stroke-width="2.4" fill="none" stroke-linecap="round" stroke-linejoin="round"/>
<path d="M8.59 663.05C11.46 667.34 14.32 671.64 17.19 675.94" stroke="#493fa6" stroke-width="1.6" fill="none" stroke-linecap="round" stroke-linejoin="round"/>
<path d="M165.63 618.98C166.21 617.03 167.97 617.03 167.38 613.13C166.8 609.22 164.45 612.34 163.87 607.27C163.28 602.19 161.91 602.97 165.63 597.89C169.34 592.81 168.75 594.38 175 592.03C181.25 589.69 178.52 589.69 184.38 590.86C190.23 592.03 187.11 593.79 192.58 595.55C198.05 597.3 196.48 594.18 200.78 596.13C205.08 598.09 203.71 596.13 205.47 601.41C207.23 606.68 208.01 606.09 206.06 611.95C204.1 617.81 205.27 615.86 199.61 618.98C193.95 622.11 194.34 619.38 189.06 621.33C183.79 623.28 184.96 621.91 183.79 624.84C182.62 627.77 184.96 628.36 185.55 630.12" stroke="#352c8c" stroke-width="2.4" fill="none" stroke-linecap="round" stroke-linejoin="round"/>
<path d="M165.63 618.98C166.21 617.03 167.97 617.03 167.38 613.13C166.8 609.22 164.45 612.34 163.87 607.27C163.28 602.19 161.91 602.97 165.63 597.89C169.34 592.81 168.75 594.38 175 592.03C181.25 589.69 178.52 589.69 184.38 590.86C190.23 592.03 187.11 593.79 192.58 595.55C198.05 597.3 196.48 594.18 200.78 596.13C205.08 598.09 203.71 596.13 205.47 601.41C207.23 606.68 208.01 606.09 206.06 611.95C204.1 617.81 205.27 615.86 199.61 618.98C193.95 622.11 194.34 619.38 189.06 621.33C183.79 623.28 184.96 621.91 183.79 624.84C182.62 627.77 184.96 628.36 185.55 630.12" stroke="#493fa6" stroke-width="1.6" fill="none" stroke-linecap="round" stroke-linejoin="round"/>
<path d="M130.47 613.13C130.08 615.08 126.56 616.64 129.3 618.98C132.03 621.33 132.03 619.96 138.67 620.16C145.31 620.35 144.14 618.79 149.22 619.57C154.3 620.35 153.13 619.18 153.91 622.5C154.69 625.82 153.13 625.63 151.56 629.53C150 633.44 151.56 630.7 149.22 634.22C146.88 637.73 145.31 635.78 144.53 640.08C143.75 644.38 144.34 643.4 146.88 647.11C149.41 650.82 150.39 649.84 152.15 651.21" stroke="#352c8c" stroke-width="2.4" fill="none" stroke-linecap="round" stroke-linejoin="round"/>
<path d="M130.47 613.13C130.08 615.08 126.56 616.64 129.3 618.98C132.03 621.33 132.03 619.96 138.67 620.16C145.31 620.35 144.14 618.79 149.22 619.57C154.3 620.35 153.13 619.18 153.91 622.5C154.69 625.82 153.13 625.63 151.56 629.53C150 633.44 151.56 630.7 149.22 634.22C146.88 637.73 145.31 635.78 144.53 640.08C143.75 644.38 144.34 643.4 146.88 647.11C149.41 650.82 150.39 649.84 152.15 651.21" stroke="#493fa6" stroke-width="1.6" fill="none" stroke-linecap="round" stroke-linejoin="round"/>
<path d="M177.34 655.31C179.69 654.92 178.91 656.48 184.38 654.14C189.84 651.8 188.28 650.04 193.75 648.28C199.22 646.52 197.46 646.52 200.78 648.87C204.1 651.21 202.93 649.26 203.71 655.31C204.49 661.37 204.1 659.22 203.13 667.03C202.15 674.84 201.09 673.48 200.78 678.75C200.47 684.02 201.72 681.48 202.19 682.85" stroke="#352c8c" stroke-width="2.4" fill="none" stroke-linecap="round" stroke-linejoin="round"/>
<path d="M177.34 655.31C179.69 654.92 178.91 656.48 184.38 654.14C189.84 651.8 188.28 650.04 193.75 648.28C199.22 646.52 197.46 646.52 200.78 648.87C204.1 651.21 202.93 649.26 203.71 655.31C204.49 661.37 204.1 659.22 203.13 667.03C202.15 674.84 201.09 673.48 200.78 678.75C200.47 684.02 201.72 681.48 202.19 682.85" stroke="#493fa6" stroke-width="1.6" fill="none" stroke-linecap="round" stroke-linejoin="round"/>
<path d="M107.03 630.7C106.25 627.19 103.91 626.8 104.69 620.16C105.47 613.52 105.08 615.08 109.38 610.78C113.67 606.48 112.89 606.88 117.58 607.27C122.27 607.66 120.23 607.66 123.44 611.95C126.64 616.25 125.82 614.69 127.19 620.16C128.55 625.63 128.79 624.45 127.54 628.36C126.29 632.27 126.76 630.31 123.44 631.88C120.12 633.44 119.53 632.66 117.58 633.05" stroke="#352c8c" stroke-width="2.4" fill="none" stroke-linecap="round" stroke-linejoin="round"/>
<path d="M107.03 630.7C106.25 627.19 103.91 626.8 104.69 620.16C105.47 613.52 105.08 615.08 109.38 610.78C113.67 606.48 112.89 606.88 117.58 607.27C122.27 607.66 120.23 607.66 123.44 611.95C126.64 616.25 125.82 614.69 127.19 620.16C128.55 625.63 128.79 624.45 127.54 628.36C126.29 632.27 126.76 630.31 123.44 631.88C120.12 633.44 119.53 632.66 117.58 633.05" stroke="#493fa6" stroke-width="1.6" fill="none" stroke-linecap="round" stroke-linejoin="round"/>
<path d="M111.72 609.61C112.89 606.68 111.33 604.73 115.23 600.82C119.14 596.91 119.34 597.3 123.44 597.89C127.54 598.48 126.95 598.48 127.54 602.58C128.13 606.68 125.98 607.66 125.2 610.2" stroke="#352c8c" stroke-width="2.4" fill="none" stroke-linecap="round" stroke-linejoin="round"/>
<path d="M111.72 609.61C112.89 606.68 111.33 604.73 115.23 600.82C119.14 596.91 119.34 597.3 123.44 597.89C127.54 598.48 126.95 598.48 127.54 602.58C128.13 606.68 125.98 607.66 125.2 610.2" stroke="#493fa6" stroke-width="1.6" fill="none" stroke-linecap="round" stroke-linejoin="round"/>
<path d="M100 618.98C101.56 617.42 100.78 616.25 104.69 614.3C108.59 612.34 107.03 613.13 111.72 613.13C116.41 613.13 114.84 611.95 118.75 614.3C122.66 616.64 121.88 618.2 123.44 620.16" stroke="#352c8c" stroke-width="2.4" fill="none" stroke-linecap="round" stroke-linejoin="round"/>
<path d="M100 618.98C101.56 617.42 100.78 616.25 104.69 614.3C108.59 612.34 107.03 613.13 111.72 613.13C116.41 613.13 114.84 611.95 118.75 614.3C122.66 616.64 121.88 618.2 123.44 620.16" stroke="#493fa6" stroke-width="1.6" fill="none" stroke-linecap="round" stroke-linejoin="round"/>
<path d="M151.56 667.03C150.39 670.16 149.61 671.13 148.05 676.41C146.48 681.68 145.7 680.12 146.88 682.85C148.05 685.59 148.44 685.98 151.56 684.61C154.69 683.24 154.69 680.7 156.25 678.75" stroke="#352c8c" stroke-width="2.4" fill="none" stroke-linecap="round" stroke-linejoin="round"/>
<path d="M151.56 667.03C150.39 670.16 149.61 671.13 148.05 676.41C146.48 681.68 145.7 680.12 146.88 682.85C148.05 685.59 148.44 685.98 151.56 684.61C154.69 683.24 154.69 680.7 156.25 678.75" stroke="#493fa6" stroke-width="1.6" fill="none" stroke-linecap="round" stroke-linejoin="round"/>
<path d="M150.39 665.86 L158.01 631.88 L156.02 627.77 L167.03 618.75 L168.2 633.28 L164.45 631.88 L158.59 667.03 Z" fill="#493fa6" stroke="#352c8c" stroke-width="0.8" stroke-linejoin="round"/>
<path d="M179.69 630.12 L189.65 633.63 L175 655.31 L163.87 670.55 L156.25 667.03 L170.31 648.28 Z" fill="#493fa6" stroke="#352c8c" stroke-width="0.8" stroke-linejoin="round"/>
<path d="M94.53 654.45 L111.72 652.31 L128.91 671.64 L137.5 690.98 L141.8 710.31 L137.5 729.65 L120.31 731.8 L107.42 718.91 L100.98 697.42 L92.38 675.94 Z" fill="#493fa6"/>
<path d="M158.99 673.79 L193.36 669.49 L199.81 684.53 L193.36 701.72 L191.21 716.76 L171.88 721.06 L150.39 710.31 L148.24 697.42 L161.13 686.68 Z" fill="#493fa6"/>
<polyline points="46.19,608.91 62.31,631.89" stroke="#352c8c" stroke-width="7.8" fill="none" stroke-linejoin="round" stroke-linecap="round"/>
<polyline points="46.19,608.91 62.31,631.89" stroke="#3b3296" stroke-width="6.73" fill="none" stroke-linejoin="round" stroke-linecap="round"/>
<polyline points="30.08,627.6 50.49,651.23" stroke="#352c8c" stroke-width="7.8" fill="none" stroke-linejoin="round" stroke-linecap="round"/>
<polyline points="30.08,627.6 50.49,651.23" stroke="#3b3296" stroke-width="6.73" fill="none" stroke-linejoin="round" stroke-linecap="round"/>
<polyline points="19.34,646.29 40.82,660.9" stroke="#352c8c" stroke-width="7.8" fill="none" stroke-linejoin="round" stroke-linecap="round"/>
<polyline points="19.34,646.29 40.82,660.9" stroke="#3b3296" stroke-width="6.73" fill="none" stroke-linejoin="round" stroke-linecap="round"/>
<polyline points="69.82,611.48 46.19,608.91" stroke="#352c8c" stroke-width="11.92" fill="none" stroke-linejoin="round" stroke-linecap="round"/>
<polyline points="69.82,611.48 46.19,608.91" stroke="#493fa6" stroke-width="10.86" fill="none" stroke-linejoin="round" stroke-linecap="round"/>
<polyline points="61.79,610.61 54.23,609.78" stroke="#8d74c9" stroke-width="3.04" fill="none" stroke-linejoin="round" stroke-linecap="round"/>
<polyline points="62.31,631.89 30.08,627.6" stroke="#352c8c" stroke-width="11.92" fill="none" stroke-linejoin="round" stroke-linecap="round"/>
<polyline points="62.31,631.89 30.08,627.6" stroke="#493fa6" stroke-width="10.86" fill="none" stroke-linejoin="round" stroke-linecap="round"/>
<polyline points="51.35,630.43 41.04,629.06" stroke="#8d74c9" stroke-width="3.04" fill="none" stroke-linejoin="round" stroke-linecap="round"/>
<polyline points="50.49,651.23 19.34,646.29" stroke="#352c8c" stroke-width="11.92" fill="none" stroke-linejoin="round" stroke-linecap="round"/>
<polyline points="50.49,651.23 19.34,646.29" stroke="#493fa6" stroke-width="10.86" fill="none" stroke-linejoin="round" stroke-linecap="round"/>
<polyline points="39.9,649.55 29.93,647.97" stroke="#8d74c9" stroke-width="3.04" fill="none" stroke-linejoin="round" stroke-linecap="round"/>
<polyline points="40.82,660.9 11.82,661.97" stroke="#352c8c" stroke-width="11.92" fill="none" stroke-linejoin="round" stroke-linecap="round"/>
<polyline points="40.82,660.9 11.82,661.97" stroke="#493fa6" stroke-width="10.86" fill="none" stroke-linejoin="round" stroke-linecap="round"/>
<polyline points="30.96,661.26 21.68,661.61" stroke="#8d74c9" stroke-width="3.04" fill="none" stroke-linejoin="round" stroke-linecap="round"/>
<polyline points="51.56,675.94 36.52,686.68" stroke="#352c8c" stroke-width="7.44" fill="none" stroke-linejoin="round" stroke-linecap="round"/>
<polyline points="51.56,675.94 36.52,686.68" stroke="#3b3296" stroke-width="6.38" fill="none" stroke-linejoin="round" stroke-linecap="round"/>
<polyline points="62.31,697.42 42.97,706.02" stroke="#352c8c" stroke-width="7.44" fill="none" stroke-linejoin="round" stroke-linecap="round"/>
<polyline points="62.31,697.42 42.97,706.02" stroke="#3b3296" stroke-width="6.38" fill="none" stroke-linejoin="round" stroke-linecap="round"/>
<polyline points="68.75,712.89 49.41,723.2" stroke="#352c8c" stroke-width="7.44" fill="none" stroke-linejoin="round" stroke-linecap="round"/>
<polyline points="68.75,712.89 49.41,723.2" stroke="#3b3296" stroke-width="6.38" fill="none" stroke-linejoin="round" stroke-linecap="round"/>
<polyline points="27.93,669.92 51.56,675.94" stroke="#352c8c" stroke-width="11.35" fill="none" stroke-linejoin="round" stroke-linecap="round"/>
<polyline points="27.93,669.92 51.56,675.94" stroke="#493fa6" stroke-width="10.29" fill="none" stroke-linejoin="round" stroke-linecap="round"/>
<polyline points="35.97,671.97 43.53,673.89" stroke="#8d74c9" stroke-width="2.88" fill="none" stroke-linejoin="round" stroke-linecap="round"/>
<polyline points="36.52,686.68 62.31,697.42" stroke="#352c8c" stroke-width="11.35" fill="none" stroke-linejoin="round" stroke-linecap="round"/>
<polyline points="36.52,686.68 62.31,697.42" stroke="#493fa6" stroke-width="10.29" fill="none" stroke-linejoin="round" stroke-linecap="round"/>
<polyline points="45.29,690.33 53.54,693.77" stroke="#8d74c9" stroke-width="2.88" fill="none" stroke-linejoin="round" stroke-linecap="round"/>
<polyline points="42.97,706.02 68.75,712.89" stroke="#352c8c" stroke-width="11.35" fill="none" stroke-linejoin="round" stroke-linecap="round"/>
<polyline points="42.97,706.02 68.75,712.89" stroke="#493fa6" stroke-width="10.29" fill="none" stroke-linejoin="round" stroke-linecap="round"/>
<polyline points="51.73,708.35 59.98,710.55" stroke="#8d74c9" stroke-width="2.88" fill="none" stroke-linejoin="round" stroke-linecap="round"/>
<polyline points="49.41,723.2 71.97,727.5" stroke="#352c8c" stroke-width="11.35" fill="none" stroke-linejoin="round" stroke-linecap="round"/>
<polyline points="49.41,723.2 71.97,727.5" stroke="#493fa6" stroke-width="10.29" fill="none" stroke-linejoin="round" stroke-linecap="round"/>
<polyline points="57.08,724.67 64.3,726.04" stroke="#8d74c9" stroke-width="2.88" fill="none" stroke-linejoin="round" stroke-linecap="round"/>
<polyline points="92.38,648.01 78.42,658.75" stroke="#352c8c" stroke-width="7.44" fill="none" stroke-linejoin="round" stroke-linecap="round"/>
<polyline points="92.38,648.01 78.42,658.75" stroke="#3b3296" stroke-width="6.38" fill="none" stroke-linejoin="round" stroke-linecap="round"/>
<polyline points="104.2,661.97 95.61,675.94" stroke="#352c8c" stroke-width="7.44" fill="none" stroke-linejoin="round" stroke-linecap="round"/>
<polyline points="104.2,661.97 95.61,675.94" stroke="#3b3296" stroke-width="6.38" fill="none" stroke-linejoin="round" stroke-linecap="round"/>
<polyline points="121.39,675.94 103.13,690.98" stroke="#352c8c" stroke-width="7.44" fill="none" stroke-linejoin="round" stroke-linecap="round"/>
<polyline points="121.39,675.94 103.13,690.98" stroke="#3b3296" stroke-width="6.38" fill="none" stroke-linejoin="round" stroke-linecap="round"/>
<polyline points="128.91,693.13 112.79,710.31" stroke="#352c8c" stroke-width="7.44" fill="none" stroke-linejoin="round" stroke-linecap="round"/>
<polyline points="128.91,693.13 112.79,710.31" stroke="#3b3296" stroke-width="6.38" fill="none" stroke-linejoin="round" stroke-linecap="round"/>
<polyline points="137.5,710.31 117.09,725.35" stroke="#352c8c" stroke-width="7.44" fill="none" stroke-linejoin="round" stroke-linecap="round"/>
<polyline points="137.5,710.31 117.09,725.35" stroke="#3b3296" stroke-width="6.38" fill="none" stroke-linejoin="round" stroke-linecap="round"/>
<polyline points="67.68,642.64 92.38,648.01" stroke="#352c8c" stroke-width="11.35" fill="none" stroke-linejoin="round" stroke-linecap="round"/>
<polyline points="67.68,642.64 92.38,648.01" stroke="#493fa6" stroke-width="10.29" fill="none" stroke-linejoin="round" stroke-linecap="round"/>
<polyline points="76.08,644.46 83.98,646.18" stroke="#8d74c9" stroke-width="2.88" fill="none" stroke-linejoin="round" stroke-linecap="round"/>
<polyline points="78.42,658.75 104.2,661.97" stroke="#352c8c" stroke-width="11.35" fill="none" stroke-linejoin="round" stroke-linecap="round"/>
<polyline points="78.42,658.75 104.2,661.97" stroke="#493fa6" stroke-width="10.29" fill="none" stroke-linejoin="round" stroke-linecap="round"/>
<polyline points="87.18,659.85 95.43,660.88" stroke="#8d74c9" stroke-width="2.88" fill="none" stroke-linejoin="round" stroke-linecap="round"/>
<polyline points="95.61,675.94 121.39,675.94" stroke="#352c8c" stroke-width="11.35" fill="none" stroke-linejoin="round" stroke-linecap="round"/>
<polyline points="95.61,675.94 121.39,675.94" stroke="#493fa6" stroke-width="10.29" fill="none" stroke-linejoin="round" stroke-linecap="round"/>
<polyline points="104.37,675.94 112.62,675.94" stroke="#8d74c9" stroke-width="2.88" fill="none" stroke-linejoin="round" stroke-linecap="round"/>
<polyline points="103.13,690.98 128.91,693.13" stroke="#352c8c" stroke-width="11.35" fill="none" stroke-linejoin="round" stroke-linecap="round"/>
<polyline points="103.13,690.98 128.91,693.13" stroke="#493fa6" stroke-width="10.29" fill="none" stroke-linejoin="round" stroke-linecap="round"/>
<polyline points="111.89,691.71 120.14,692.4" stroke="#8d74c9" stroke-width="2.88" fill="none" stroke-linejoin="round" stroke-linecap="round"/>
<polyline points="112.79,710.31 137.5,710.31" stroke="#352c8c" stroke-width="11.35" fill="none" stroke-linejoin="round" stroke-linecap="round"/>
<polyline points="112.79,710.31 137.5,710.31" stroke="#493fa6" stroke-width="10.29" fill="none" stroke-linejoin="round" stroke-linecap="round"/>
<polyline points="121.19,710.31 129.1,710.31" stroke="#8d74c9" stroke-width="2.88" fill="none" stroke-linejoin="round" stroke-linecap="round"/>
<polyline points="117.09,725.35 139.65,727.5" stroke="#352c8c" stroke-width="11.35" fill="none" stroke-linejoin="round" stroke-linecap="round"/>
<polyline points="117.09,725.35 139.65,727.5" stroke="#493fa6" stroke-width="10.29" fill="none" stroke-linejoin="round" stroke-linecap="round"/>
<polyline points="124.76,726.08 131.98,726.77" stroke="#8d74c9" stroke-width="2.88" fill="none" stroke-linejoin="round" stroke-linecap="round"/>
<polyline points="194.44,674.22 169.73,688.83" stroke="#352c8c" stroke-width="6.38" fill="none" stroke-linejoin="round" stroke-linecap="round"/>
<polyline points="194.44,674.22 169.73,688.83" stroke="#3b3296" stroke-width="5.31" fill="none" stroke-linejoin="round" stroke-linecap="round"/>
<polyline points="197.66,687.11 178.32,701.72" stroke="#352c8c" stroke-width="6.38" fill="none" stroke-linejoin="round" stroke-linecap="round"/>
<polyline points="197.66,687.11 178.32,701.72" stroke="#3b3296" stroke-width="5.31" fill="none" stroke-linejoin="round" stroke-linecap="round"/>
<polyline points="154.69,697.42 150.39,706.02" stroke="#352c8c" stroke-width="6.38" fill="none" stroke-linejoin="round" stroke-linecap="round"/>
<polyline points="154.69,697.42 150.39,706.02" stroke="#3b3296" stroke-width="5.31" fill="none" stroke-linejoin="round" stroke-linecap="round"/>
<polyline points="171.88,702.79 160.06,716.76" stroke="#352c8c" stroke-width="6.38" fill="none" stroke-linejoin="round" stroke-linecap="round"/>
<polyline points="171.88,702.79 160.06,716.76" stroke="#3b3296" stroke-width="5.31" fill="none" stroke-linejoin="round" stroke-linecap="round"/>
<polyline points="189.06,702.15 192.29,714.61" stroke="#352c8c" stroke-width="6.38" fill="none" stroke-linejoin="round" stroke-linecap="round"/>
<polyline points="189.06,702.15 192.29,714.61" stroke="#3b3296" stroke-width="5.31" fill="none" stroke-linejoin="round" stroke-linecap="round"/>
<polyline points="163.28,675.94 194.44,674.22" stroke="#352c8c" stroke-width="9.64" fill="none" stroke-linejoin="round" stroke-linecap="round"/>
<polyline points="163.28,675.94 194.44,674.22" stroke="#493fa6" stroke-width="8.57" fill="none" stroke-linejoin="round" stroke-linecap="round"/>
<polyline points="173.87,675.35 183.84,674.8" stroke="#8d74c9" stroke-width="2.4" fill="none" stroke-linejoin="round" stroke-linecap="round"/>
<polyline points="169.73,688.83 197.66,687.11" stroke="#352c8c" stroke-width="9.64" fill="none" stroke-linejoin="round" stroke-linecap="round"/>
<polyline points="169.73,688.83 197.66,687.11" stroke="#493fa6" stroke-width="8.57" fill="none" stroke-linejoin="round" stroke-linecap="round"/>
<polyline points="179.22,688.24 188.16,687.69" stroke="#8d74c9" stroke-width="2.4" fill="none" stroke-linejoin="round" stroke-linecap="round"/>
<polyline points="178.32,701.72 154.69,697.42" stroke="#352c8c" stroke-width="9.64" fill="none" stroke-linejoin="round" stroke-linecap="round"/>
<polyline points="178.32,701.72 154.69,697.42" stroke="#493fa6" stroke-width="8.57" fill="none" stroke-linejoin="round" stroke-linecap="round"/>
<polyline points="170.29,700.26 162.72,698.88" stroke="#8d74c9" stroke-width="2.4" fill="none" stroke-linejoin="round" stroke-linecap="round"/>
<polyline points="150.39,706.02 171.88,702.79" stroke="#352c8c" stroke-width="9.64" fill="none" stroke-linejoin="round" stroke-linecap="round"/>
<polyline points="150.39,706.02 171.88,702.79" stroke="#493fa6" stroke-width="8.57" fill="none" stroke-linejoin="round" stroke-linecap="round"/>
<polyline points="157.7,704.92 164.57,703.89" stroke="#8d74c9" stroke-width="2.4" fill="none" stroke-linejoin="round" stroke-linecap="round"/>
<polyline points="160.06,716.76 189.06,702.15" stroke="#352c8c" stroke-width="9.64" fill="none" stroke-linejoin="round" stroke-linecap="round"/>
<polyline points="160.06,716.76 189.06,702.15" stroke="#493fa6" stroke-width="8.57" fill="none" stroke-linejoin="round" stroke-linecap="round"/>
<polyline points="169.92,711.79 179.2,707.12" stroke="#8d74c9" stroke-width="2.4" fill="none" stroke-linejoin="round" stroke-linecap="round"/>
<polyline points="192.29,714.61 177.25,718.91" stroke="#352c8c" stroke-width="9.64" fill="none" stroke-linejoin="round" stroke-linecap="round"/>
<polyline points="192.29,714.61 177.25,718.91" stroke="#493fa6" stroke-width="8.57" fill="none" stroke-linejoin="round" stroke-linecap="round"/>
<polyline points="187.17,716.07 182.36,717.45" stroke="#8d74c9" stroke-width="2.4" fill="none" stroke-linejoin="round" stroke-linecap="round"/>
<polyline points="154.69,727.5 137.5,745.12" stroke="#352c8c" stroke-width="6.38" fill="none" stroke-linejoin="round" stroke-linecap="round"/>
<polyline points="154.69,727.5 137.5,745.12" stroke="#3b3296" stroke-width="5.31" fill="none" stroke-linejoin="round" stroke-linecap="round"/>
<polyline points="128.91,740.39 154.69,727.5" stroke="#352c8c" stroke-width="9.64" fill="none" stroke-linejoin="round" stroke-linecap="round"/>
<polyline points="128.91,740.39 154.69,727.5" stroke="#493fa6" stroke-width="8.57" fill="none" stroke-linejoin="round" stroke-linecap="round"/>
<polyline points="137.67,736.01 145.92,731.88" stroke="#8d74c9" stroke-width="2.4" fill="none" stroke-linejoin="round" stroke-linecap="round"/>
<polyline points="137.5,745.12 157.91,738.24" stroke="#352c8c" stroke-width="9.64" fill="none" stroke-linejoin="round" stroke-linecap="round"/>
<polyline points="137.5,745.12 157.91,738.24" stroke="#493fa6" stroke-width="8.57" fill="none" stroke-linejoin="round" stroke-linecap="round"/>
<polyline points="144.44,742.78 150.97,740.58" stroke="#8d74c9" stroke-width="2.4" fill="none" stroke-linejoin="round" stroke-linecap="round"/>
<polyline points="120.31,688.83 133.2,701.72" stroke="#352c8c" stroke-width="8.15" fill="none" stroke-linejoin="round" stroke-linecap="round"/>
<polyline points="120.31,688.83 133.2,701.72" stroke="#3b3296" stroke-width="7.09" fill="none" stroke-linejoin="round" stroke-linecap="round"/>
<polyline points="103.13,671.64 120.31,688.83" stroke="#352c8c" stroke-width="12.49" fill="none" stroke-linejoin="round" stroke-linecap="round"/>
<polyline points="103.13,671.64 120.31,688.83" stroke="#493fa6" stroke-width="11.43" fill="none" stroke-linejoin="round" stroke-linecap="round"/>
<polyline points="108.97,677.49 114.47,682.99" stroke="#8d74c9" stroke-width="3.2" fill="none" stroke-linejoin="round" stroke-linecap="round"/>
<polyline points="54.79,610.41 64.45,612.56" stroke="#8d74c9" stroke-width="2" fill="none" stroke-linejoin="round" stroke-linecap="round"/>
<polyline points="40.82,629.75 49.41,631.89" stroke="#8d74c9" stroke-width="2" fill="none" stroke-linejoin="round" stroke-linecap="round"/>
<polyline points="27.93,647.58 36.52,649.08" stroke="#8d74c9" stroke-width="2" fill="none" stroke-linejoin="round" stroke-linecap="round"/>
<polyline points="17.19,661.97 23.63,661.33" stroke="#8d74c9" stroke-width="2" fill="none" stroke-linejoin="round" stroke-linecap="round"/>
<polyline points="182.62,678.09 191.21,677.01" stroke="#8d74c9" stroke-width="2" fill="none" stroke-linejoin="round" stroke-linecap="round"/>
<polyline points="178.32,690.98 184.77,689.26" stroke="#8d74c9" stroke-width="2" fill="none" stroke-linejoin="round" stroke-linecap="round"/>
<polyline points="182.62,706.02 189.06,704.94" stroke="#8d74c9" stroke-width="2" fill="none" stroke-linejoin="round" stroke-linecap="round"/>
<polyline points="120.31,706.02 126.76,704.94" stroke="#8d74c9" stroke-width="2" fill="none" stroke-linejoin="round" stroke-linecap="round"/>
<polyline points="137.5,731.8 146.1,729.65" stroke="#8d74c9" stroke-width="2" fill="none" stroke-linejoin="round" stroke-linecap="round"/>
<polyline points="49.41,699.57 54.79,701.72" stroke="#8d74c9" stroke-width="2" fill="none" stroke-linejoin="round" stroke-linecap="round"/>
<polyline points="117.09,635.12 124.61,640.49 128.91,634.04 134.28,638.34 140.72,631.89 150.39,634.04" stroke="#3fba3f" stroke-width="4" fill="none" stroke-linejoin="round" stroke-linecap="round"/>
<polyline points="150.39,634.04 157.91,636.19" stroke="#2c5fd0" stroke-width="4" fill="none" stroke-linejoin="round" stroke-linecap="round"/>
<polyline points="124.61,640.49 128.26,644.14" stroke="#2c5fd0" stroke-width="4" fill="none" stroke-linejoin="round" stroke-linecap="round"/>
<polyline points="100.98,636.19 107.42,632.97 111.72,638.34 107.42,643.71 99.9,641.56 100.98,636.19" stroke="#3fba3f" stroke-width="4" fill="none" stroke-linejoin="round" stroke-linecap="round"/>
<polyline points="100.98,636.19 107.42,632.97" stroke="#2c5fd0" stroke-width="4" fill="none" stroke-linejoin="round" stroke-linecap="round"/>
<polyline points="107.42,643.71 111.72,638.34" stroke="#2c5fd0" stroke-width="1.29" fill="none" stroke-linejoin="round" stroke-linecap="round"/>
<polyline points="103.13,643.71 102.05,652.31 98.83,656.6 100.98,661.97" stroke="#3fba3f" stroke-width="4" fill="none" stroke-linejoin="round" stroke-linecap="round"/>
<polyline points="100.98,661.97 104.2,663.48" stroke="#e03a3a" stroke-width="4" fill="none" stroke-linejoin="round" stroke-linecap="round"/>
<polyline points="94.53,645.86 99.9,651.23" stroke="#2c5fd0" stroke-width="4" fill="none" stroke-linejoin="round" stroke-linecap="round"/>
<polyline points="145.02,653.38 137.5,654.45 128.91,655.53 123.54,663.05 117.09,665.2 113.87,669.49 116.02,678.09" stroke="#3fba3f" stroke-width="4" fill="none" stroke-linejoin="round" stroke-linecap="round"/>
<polyline points="137.5,654.45 145.67,652.95" stroke="#2c5fd0" stroke-width="4" fill="none" stroke-linejoin="round" stroke-linecap="round"/>
<polyline points="116.02,678.09 119.88,680.66" stroke="#e03a3a" stroke-width="4" fill="none" stroke-linejoin="round" stroke-linecap="round"/>
<polyline points="113.87,669.49 107.42,667.77" stroke="#2c5fd0" stroke-width="4" fill="none" stroke-linejoin="round" stroke-linecap="round"/>
<polyline points="133.2,682.38 134.28,685.61 141.8,687.75 143.95,695.27 138.58,700.65 131.06,698.5 128.91,690.98 134.28,685.61" stroke="#3fba3f" stroke-width="4" fill="none" stroke-linejoin="round" stroke-linecap="round"/>
<polyline points="129.55,677.01 133.2,682.38" stroke="#e03a3a" stroke-width="4" fill="none" stroke-linejoin="round" stroke-linecap="round"/>
<polyline points="138.58,700.65 143.95,710.31 148.24,718.91" stroke="#3fba3f" stroke-width="4" fill="none" stroke-linejoin="round" stroke-linecap="round"/>
<polyline points="148.24,718.91 144.38,722.77" stroke="#e03a3a" stroke-width="4" fill="none" stroke-linejoin="round" stroke-linecap="round"/>
<text x="133.63" y="628.24" font-size="7" fill="#222" style='font-family:"Liberation Sans", sans-serif' textLength="14.61" lengthAdjust="spacingAndGlyphs" >ARG</text>
<text x="108.5" y="652.31" font-size="7" fill="#222" style='font-family:"Liberation Sans", sans-serif' textLength="10.31" lengthAdjust="spacingAndGlyphs" >HIS</text>
<text x="131.49" y="666.49" font-size="7" fill="#222" style='font-family:"Liberation Sans", sans-serif' textLength="14.61" lengthAdjust="spacingAndGlyphs" >ARG</text>
<text x="136.86" y="682.81" font-size="7" fill="#222" style='font-family:"Liberation Sans", sans-serif' textLength="11.82" lengthAdjust="spacingAndGlyphs" >TYR</text>
<text x="130" y="487.5" font-size="27.5" fill="#141414" style='font-family:"Liberation Sans", sans-serif' textLength="238.75" lengthAdjust="spacingAndGlyphs" >C. Phage integrase</text>
<path d="M102 492.5L102 511.43" stroke="#141414" stroke-width="2.3" fill="none"/>
<path d="M102 520.5L94.6 504Q99.41 507.3 102 508.62Q104.59 507.3 109.4 504Z" fill="#141414"/>
<path d="M162 492.5L162 511.43" stroke="#141414" stroke-width="2.3" fill="none"/>
<path d="M162 520.5L154.6 504Q159.41 507.3 162 508.62Q164.59 507.3 169.4 504Z" fill="#141414"/>
<path d="M191.25 492.5L191.25 511.43" stroke="#141414" stroke-width="2.3" fill="none"/>
<path d="M191.25 520.5L183.85 504Q188.66 507.3 191.25 508.62Q193.84 507.3 198.65 504Z" fill="#141414"/>
<path d="M442.5 492.5L442.5 511.43" stroke="#141414" stroke-width="2.3" fill="none"/>
<path d="M442.5 520.5L435.1 504Q439.91 507.3 442.5 508.62Q445.09 507.3 449.9 504Z" fill="#141414"/>
<text x="69.5" y="538.92" font-size="9.5" fill="#141414" text-anchor="end" font-family='"Liberation Sans", sans-serif'>4</text>
<text x="69.5" y="550.79" font-size="9.5" fill="#141414" text-anchor="end" font-family='"Liberation Sans", sans-serif'>3</text>
<text x="69.5" y="562.67" font-size="9.5" fill="#141414" text-anchor="end" font-family='"Liberation Sans", sans-serif'>2</text>
<text x="69.5" y="574.54" font-size="9.5" fill="#141414" text-anchor="end" font-family='"Liberation Sans", sans-serif'>1</text>
<path d="M71.3 583L74.5 583L74.5 535.5M74.5 535.5L71.3 535.5M74.5 547.38L71.3 547.38M74.5 559.25L71.3 559.25M74.5 571.12L71.3 571.12" stroke="#141414" stroke-width="1.2" fill="none"/>
<text x="8.5" y="560.5" font-size="12" fill="#141414" style='font-family:"Liberation Mono", monospace' textLength="28" lengthAdjust="spacingAndGlyphs" >logo</text>
<text transform="matrix(0.0438 0 0 0.0060 78.3 582.76)" font-size="200" fill="#00aeef" font-weight="bold">Q</text>
<text transform="matrix(0.0514 0 0 0.0120 78.3 581.72)" font-size="200" fill="#f7964f" font-weight="bold">P</text>
<text transform="matrix(0.0380 0 0 0.0075 85.74 583)" font-size="200" fill="#d671c6" font-weight="bold">W</text>
<text transform="matrix(0.0499 0 0 0.0144 85.74 581.76)" font-size="200" fill="#ed1c24" font-weight="bold">D</text>
<text transform="matrix(0.0499 0 0 0.0123 85.74 579.54)" font-size="200" fill="#e3d800" font-weight="bold">C</text>
<text transform="matrix(0.0536 0 0 0.0255 85.74 577.63)" font-size="200" fill="#6d6e71">A</text>
<text transform="matrix(0.0461 0 0 0.0168 85.74 573.26)" font-size="200" fill="#00aeef">Q</text>
<text transform="matrix(0.0577 0 0 0.0080 93.53 583)" font-size="200" fill="#0b9a48" font-weight="bold">L</text>
<text transform="matrix(0.0421 0 0 0.0132 93.53 581.69)" font-size="200" fill="#e3d800" font-weight="bold">M</text>
<text transform="matrix(0.0340 0 0 0.0090 101.16 583)" font-size="200" fill="#d671c6" font-weight="bold">W</text>
<text transform="matrix(0.0412 0 0 0.0069 101.16 581.29)" font-size="200" fill="#00aeef" font-weight="bold">Q</text>
<text transform="matrix(0.1148 0 0 0.0181 101.16 580.13)" font-size="200" fill="#0b9a48">I</text>
<text transform="matrix(0.0527 0 0 0.0247 101.16 577.43)" font-size="200" fill="#176fa6">F</text>
<text transform="matrix(0.0450 0 0 0.0082 108.19 583)" font-size="200" fill="#27aae1" font-weight="bold">N</text>
<text transform="matrix(0.0487 0 0 0.0159 108.19 581.67)" font-size="200" fill="#1c75bc" font-weight="bold">Y</text>
<text transform="matrix(0.0487 0 0 0.0148 108.19 579.27)" font-size="200" fill="#0b9a48" font-weight="bold">V</text>
<text transform="matrix(0.0487 0 0 0.0150 108.19 577.04)" font-size="200" fill="#f7964f" font-weight="bold">P</text>
<text transform="matrix(0.0531 0 0 0.0217 108.19 574.77)" font-size="200" fill="#f47b20">T</text>
<text transform="matrix(0.0434 0 0 0.0090 115.27 582.98)" font-size="200" fill="#9a9c9e" font-weight="bold">G</text>
<text transform="matrix(0.0470 0 0 0.0102 115.27 581.52)" font-size="200" fill="#6d6e71" font-weight="bold">A</text>
<text transform="matrix(0.0470 0 0 0.0229 115.27 579.91)" font-size="200" fill="#27aae1">H</text>
<text transform="matrix(0.1210 0 0 0.0235 115.27 576.54)" font-size="200" fill="#0b9a48">I</text>
<text transform="matrix(0.0509 0 0 0.0194 115.27 573.1)" font-size="200" fill="#1c75bc">Y</text>
<text transform="matrix(0.0465 0 0 0.0059 122.64 583)" font-size="200" fill="#27aae1" font-weight="bold">N</text>
<text transform="matrix(0.0465 0 0 0.0142 122.64 581.99)" font-size="200" fill="#ed1c24" font-weight="bold">D</text>
<text transform="matrix(0.0433 0 0 0.0045 129.94 582.82)" font-size="200" fill="#00aeef" font-weight="bold">Q</text>
<text transform="matrix(0.0554 0 0 0.0145 129.94 581.99)" font-size="200" fill="#0b9a48" font-weight="bold">L</text>
<text transform="matrix(0.0405 0 0 0.0132 129.94 579.8)" font-size="200" fill="#e3d800" font-weight="bold">M</text>
<text transform="matrix(0.0476 0 0 0.0082 148.3 583)" font-size="200" fill="#1c2a9a" font-weight="bold">K</text>
<text transform="matrix(0.0440 0 0 0.0095 148.3 581.65)" font-size="200" fill="#9a9c9e" font-weight="bold">G</text>
<text transform="matrix(0.0440 0 0 0.0130 148.3 579.62)" font-size="200" fill="#00aeef" font-weight="bold">Q</text>
<text transform="matrix(0.0476 0 0 0.0234 148.3 577.56)" font-size="200" fill="#e3d800">C</text>
<text transform="matrix(0.0487 0 0 0.0093 155.76 583)" font-size="200" fill="#1c2a9a" font-weight="bold">K</text>
<text transform="matrix(0.1252 0 0 0.0099 155.76 581.51)" font-size="200" fill="#0b9a48" font-weight="bold">I</text>
<text transform="matrix(0.0500 0 0 0.0061 163.37 583)" font-size="200" fill="#1c2a9a" font-weight="bold">R</text>
<text transform="matrix(0.0541 0 0 0.0136 163.37 581.96)" font-size="200" fill="#1c75bc" font-weight="bold">Y</text>
<text transform="matrix(0.0386 0 0 0.0091 171.17 583)" font-size="200" fill="#e3d800" font-weight="bold">M</text>
<text transform="matrix(0.0448 0 0 0.0103 171.17 581.54)" font-size="200" fill="#27aae1" font-weight="bold">N</text>
<text transform="matrix(0.0448 0 0 0.0123 171.17 579.92)" font-size="200" fill="#27aae1" font-weight="bold">N</text>
<text transform="matrix(0.0341 0 0 0.0231 171.17 578.03)" font-size="200" fill="#d671c6">W</text>
<text transform="matrix(0.0481 0 0 0.0322 171.17 574.64)" font-size="200" fill="#6d6e71">A</text>
<text transform="matrix(0.0522 0 0 0.0076 178.22 583)" font-size="200" fill="#1c75bc" font-weight="bold">Y</text>
<text transform="matrix(0.0482 0 0 0.0116 178.22 581.75)" font-size="200" fill="#27aae1" font-weight="bold">N</text>
<text transform="matrix(0.0367 0 0 0.0167 178.22 579.95)" font-size="200" fill="#d671c6" font-weight="bold">W</text>
<text transform="matrix(0.0522 0 0 0.0150 178.22 577.45)" font-size="200" fill="#1c75bc" font-weight="bold">Y</text>
<text transform="matrix(0.0522 0 0 0.0313 178.22 575.12)" font-size="200" fill="#f47b20">S</text>
<text transform="matrix(0.0468 0 0 0.0071 185.76 583)" font-size="200" fill="#27aae1" font-weight="bold">H</text>
<text transform="matrix(0.0468 0 0 0.0136 185.76 581.82)" font-size="200" fill="#ed1c24" font-weight="bold">D</text>
<text transform="matrix(0.0468 0 0 0.0150 185.76 579.74)" font-size="200" fill="#1c2a9a" font-weight="bold">K</text>
<text transform="matrix(0.0404 0 0 0.0274 185.76 577.47)" font-size="200" fill="#e3d800">M</text>
<text transform="matrix(0.0470 0 0 0.0089 193.11 583)" font-size="200" fill="#6d6e71" font-weight="bold">A</text>
<text transform="matrix(0.0509 0 0 0.0125 193.11 581.57)" font-size="200" fill="#0b9a48" font-weight="bold">V</text>
<text transform="matrix(0.1209 0 0 0.0114 193.11 579.65)" font-size="200" fill="#0b9a48" font-weight="bold">I</text>
<text transform="matrix(0.0470 0 0 0.0157 193.11 577.85)" font-size="200" fill="#e3d800" font-weight="bold">C</text>
<text transform="matrix(0.0449 0 0 0.0068 200.48 583)" font-size="200" fill="#27aae1" font-weight="bold">N</text>
<text transform="matrix(0.0449 0 0 0.0107 200.48 581.86)" font-size="200" fill="#1c2a9a" font-weight="bold">K</text>
<text transform="matrix(0.0387 0 0 0.0198 200.48 580.19)" font-size="200" fill="#e3d800">M</text>
<text transform="matrix(0.0530 0 0 0.0178 200.48 577.25)" font-size="200" fill="#f47b20">T</text>
<text transform="matrix(0.0530 0 0 0.0271 200.48 574.59)" font-size="200" fill="#176fa6">F</text>
<text transform="matrix(0.0425 0 0 0.0072 207.54 582.72)" font-size="200" fill="#00aeef" font-weight="bold">Q</text>
<text transform="matrix(0.0460 0 0 0.0154 207.54 581.51)" font-size="200" fill="#1c2a9a" font-weight="bold">K</text>
<text transform="matrix(0.0378 0 0 0.0066 214.77 583)" font-size="200" fill="#d671c6" font-weight="bold">W</text>
<text transform="matrix(0.0538 0 0 0.0085 214.77 581.87)" font-size="200" fill="#f47b20" font-weight="bold">S</text>
<text transform="matrix(0.0644 0 0 0.0207 214.77 580.48)" font-size="200" fill="#0b9a48">L</text>
<text transform="matrix(0.0339 0 0 0.0059 222.52 583)" font-size="200" fill="#d671c6" font-weight="bold">W</text>
<text transform="matrix(0.0444 0 0 0.0095 222.52 581.98)" font-size="200" fill="#1c2a9a" font-weight="bold">K</text>
<text transform="matrix(0.0410 0 0 0.0166 222.52 580.43)" font-size="200" fill="#9a9c9e" font-weight="bold">G</text>
<text transform="matrix(0.0481 0 0 0.0277 222.52 577.85)" font-size="200" fill="#f47b20">S</text>
<text transform="matrix(0.0383 0 0 0.0187 222.52 573.77)" font-size="200" fill="#e3d800">M</text>
<text transform="matrix(0.0478 0 0 0.0076 229.52 583)" font-size="200" fill="#1c2a9a" font-weight="bold">K</text>
<text transform="matrix(0.0442 0 0 0.0082 229.52 581.44)" font-size="200" fill="#00aeef" font-weight="bold">Q</text>
<text transform="matrix(0.0565 0 0 0.0129 229.52 580.09)" font-size="200" fill="#f47b20" font-weight="bold">T</text>
<text transform="matrix(0.0478 0 0 0.0152 229.52 578.12)" font-size="200" fill="#1c2a9a" font-weight="bold">R</text>
<text transform="matrix(0.0442 0 0 0.0185 229.52 575.11)" font-size="200" fill="#00aeef">Q</text>
<text transform="matrix(0.0581 0 0 0.0066 237.01 583)" font-size="200" fill="#f47b20" font-weight="bold">T</text>
<text transform="matrix(0.0454 0 0 0.0121 237.01 581.87)" font-size="200" fill="#9a9c9e" font-weight="bold">G</text>
<text transform="matrix(0.0533 0 0 0.0194 237.01 579.97)" font-size="200" fill="#ed1c24">E</text>
<text transform="matrix(0.0533 0 0 0.0187 237.01 577.09)" font-size="200" fill="#ed1c24">E</text>
<text transform="matrix(0.0208 0 0 0.0091 244.7 582.98)" font-size="200" fill="#e3d800" font-weight="bold">C</text>
<text transform="matrix(0.0226 0 0 0.0125 244.7 581.49)" font-size="200" fill="#f47b20" font-weight="bold">S</text>
<text transform="matrix(0.0226 0 0 0.0160 244.7 579.54)" font-size="200" fill="#f7964f" font-weight="bold">P</text>
<text transform="matrix(0.0545 0 0 0.0083 258.3 583)" font-size="200" fill="#0b9a48" font-weight="bold">L</text>
<text transform="matrix(0.0500 0 0 0.0134 258.3 581.66)" font-size="200" fill="#ed1c24" font-weight="bold">E</text>
<text transform="matrix(0.0599 0 0 0.0188 258.3 579.61)" font-size="200" fill="#0b9a48">L</text>
<text transform="matrix(0.0567 0 0 0.0066 265.55 583)" font-size="200" fill="#f47b20" font-weight="bold">T</text>
<text transform="matrix(0.0520 0 0 0.0089 265.55 581.89)" font-size="200" fill="#ed1c24" font-weight="bold">E</text>
<text transform="matrix(0.0443 0 0 0.0178 265.55 580.43)" font-size="200" fill="#9a9c9e">G</text>
<text transform="matrix(0.0520 0 0 0.0278 265.55 577.73)" font-size="200" fill="#1c75bc">Y</text>
<text transform="matrix(0.0520 0 0 0.0283 265.55 573.64)" font-size="200" fill="#f47b20">S</text>
<text transform="matrix(0.0542 0 0 0.0085 273.06 583)" font-size="200" fill="#ed1c24" font-weight="bold">E</text>
<text transform="matrix(0.0542 0 0 0.0140 273.06 581.6)" font-size="200" fill="#f47b20" font-weight="bold">S</text>
<text transform="matrix(0.0501 0 0 0.0134 273.06 579.41)" font-size="200" fill="#e3d800" font-weight="bold">C</text>
<text transform="matrix(0.0542 0 0 0.0213 273.06 577.34)" font-size="200" fill="#1c2a9a">K</text>
<text transform="matrix(0.0501 0 0 0.0261 273.06 574.19)" font-size="200" fill="#ed1c24">D</text>
<text transform="matrix(0.0506 0 0 0.0077 280.87 582.98)" font-size="200" fill="#f47b20" font-weight="bold">S</text>
<text transform="matrix(0.0468 0 0 0.0133 280.87 581.68)" font-size="200" fill="#e3d800" font-weight="bold">C</text>
<text transform="matrix(0.0432 0 0 0.0179 280.87 578.93)" font-size="200" fill="#00aeef">Q</text>
<text transform="matrix(0.0607 0 0 0.0216 280.87 576.23)" font-size="200" fill="#0b9a48">L</text>
<text transform="matrix(0.0506 0 0 0.0177 280.87 573.06)" font-size="200" fill="#1c2a9a">K</text>
<text transform="matrix(0.0351 0 0 0.0075 288.21 583)" font-size="200" fill="#d671c6" font-weight="bold">W</text>
<text transform="matrix(0.0499 0 0 0.0107 288.21 581.77)" font-size="200" fill="#ed1c24" font-weight="bold">E</text>
<text transform="matrix(0.0499 0 0 0.0176 288.21 580.09)" font-size="200" fill="#f7964f">P</text>
<text transform="matrix(0.0495 0 0 0.0071 295.45 583)" font-size="200" fill="#1c75bc" font-weight="bold">Y</text>
<text transform="matrix(0.0422 0 0 0.0091 295.45 581.46)" font-size="200" fill="#00aeef" font-weight="bold">Q</text>
<text transform="matrix(0.0491 0 0 0.0197 295.45 579.99)" font-size="200" fill="#6d6e71">A</text>
<text transform="matrix(0.0441 0 0 0.0064 302.63 582.75)" font-size="200" fill="#00aeef" font-weight="bold">Q</text>
<text transform="matrix(0.0564 0 0 0.0133 302.63 581.65)" font-size="200" fill="#0b9a48" font-weight="bold">L</text>
<text transform="matrix(0.0518 0 0 0.0194 302.63 579.57)" font-size="200" fill="#f47b20">S</text>
<text transform="matrix(0.1229 0 0 0.0273 302.63 576.66)" font-size="200" fill="#0b9a48">I</text>
<text transform="matrix(0.0412 0 0 0.0259 302.63 572.69)" font-size="200" fill="#e3d800">M</text>
<text transform="matrix(0.0389 0 0 0.0083 318.3 583)" font-size="200" fill="#e3d800" font-weight="bold">M</text>
<text transform="matrix(0.0489 0 0 0.0151 318.3 581.62)" font-size="200" fill="#f47b20" font-weight="bold">S</text>
<text transform="matrix(0.0489 0 0 0.0145 318.3 579.31)" font-size="200" fill="#1c75bc" font-weight="bold">Y</text>
<text transform="matrix(0.0451 0 0 0.0193 318.3 577.11)" font-size="200" fill="#27aae1">H</text>
<text transform="matrix(0.0489 0 0 0.0301 318.3 574.19)" font-size="200" fill="#f47b20">S</text>
<text transform="matrix(0.0459 0 0 0.0091 325.4 583)" font-size="200" fill="#1c2a9a" font-weight="bold">K</text>
<text transform="matrix(0.0459 0 0 0.0145 325.4 581.55)" font-size="200" fill="#1c2a9a" font-weight="bold">K</text>
<text transform="matrix(0.0497 0 0 0.0187 325.4 579.34)" font-size="200" fill="#ed1c24">E</text>
<text transform="matrix(0.0452 0 0 0.0066 332.61 582.99)" font-size="200" fill="#9a9c9e" font-weight="bold">G</text>
<text transform="matrix(0.0490 0 0 0.0134 332.61 581.86)" font-size="200" fill="#ed1c24" font-weight="bold">D</text>
<text transform="matrix(0.0530 0 0 0.0109 332.61 579.79)" font-size="200" fill="#f47b20" font-weight="bold">S</text>
<text transform="matrix(0.0472 0 0 0.0056 340.26 582.78)" font-size="200" fill="#00aeef" font-weight="bold">Q</text>
<text transform="matrix(0.0511 0 0 0.0152 340.26 581.8)" font-size="200" fill="#ed1c24" font-weight="bold">D</text>
<text transform="matrix(0.0511 0 0 0.0193 340.26 579.5)" font-size="200" fill="#ed1c24">D</text>
<text transform="matrix(0.0553 0 0 0.0247 340.26 576.63)" font-size="200" fill="#1c2a9a">K</text>
<text transform="matrix(0.0388 0 0 0.0090 348.22 583)" font-size="200" fill="#e3d800" font-weight="bold">M</text>
<text transform="matrix(0.0488 0 0 0.0132 348.22 581.54)" font-size="200" fill="#f47b20" font-weight="bold">S</text>
<text transform="matrix(0.0532 0 0 0.0136 348.22 579.49)" font-size="200" fill="#f47b20" font-weight="bold">T</text>
<text transform="matrix(0.0488 0 0 0.0161 348.22 577.42)" font-size="200" fill="#1c75bc" font-weight="bold">Y</text>
<text transform="matrix(0.0532 0 0 0.0166 348.22 574.99)" font-size="200" fill="#0b9a48" font-weight="bold">L</text>
<text transform="matrix(0.0427 0 0 0.0062 355.3 583)" font-size="200" fill="#e3d800" font-weight="bold">M</text>
<text transform="matrix(0.0495 0 0 0.0129 355.3 581.94)" font-size="200" fill="#27aae1" font-weight="bold">N</text>
<text transform="matrix(0.0495 0 0 0.0188 355.3 579.92)" font-size="200" fill="#e3d800">C</text>
<text transform="matrix(0.0457 0 0 0.0151 355.3 576.52)" font-size="200" fill="#00aeef">Q</text>
<text transform="matrix(0.0495 0 0 0.0253 355.3 574.21)" font-size="200" fill="#ed1c24">D</text>
<text transform="matrix(0.0426 0 0 0.0056 363.03 582.78)" font-size="200" fill="#00aeef" font-weight="bold">Q</text>
<text transform="matrix(0.0545 0 0 0.0150 363.03 581.8)" font-size="200" fill="#176fa6" font-weight="bold">F</text>
<text transform="matrix(0.0491 0 0 0.0083 370.27 583)" font-size="200" fill="#f7964f" font-weight="bold">P</text>
<text transform="matrix(0.0454 0 0 0.0119 370.27 581.65)" font-size="200" fill="#27aae1" font-weight="bold">H</text>
<text transform="matrix(0.0454 0 0 0.0161 370.27 579.81)" font-size="200" fill="#1c2a9a" font-weight="bold">K</text>
<text transform="matrix(0.0536 0 0 0.0204 370.27 577.39)" font-size="200" fill="#176fa6">F</text>
<text transform="matrix(0.1167 0 0 0.0200 370.27 574.38)" font-size="200" fill="#0b9a48">I</text>
<text transform="matrix(0.0484 0 0 0.0076 377.41 582.98)" font-size="200" fill="#f47b20" font-weight="bold">S</text>
<text transform="matrix(0.0447 0 0 0.0094 377.41 581.72)" font-size="200" fill="#ed1c24" font-weight="bold">D</text>
<text transform="matrix(0.0504 0 0 0.0094 384.44 583)" font-size="200" fill="#f7964f" font-weight="bold">P</text>
<text transform="matrix(0.0401 0 0 0.0124 384.44 581.51)" font-size="200" fill="#e3d800" font-weight="bold">M</text>
<text transform="matrix(0.0504 0 0 0.0149 384.44 579.57)" font-size="200" fill="#f47b20" font-weight="bold">S</text>
<text transform="matrix(0.0470 0 0 0.0084 391.74 582.98)" font-size="200" fill="#9a9c9e" font-weight="bold">G</text>
<text transform="matrix(0.0439 0 0 0.0104 391.74 581.61)" font-size="200" fill="#e3d800" font-weight="bold">M</text>
<text transform="matrix(0.0388 0 0 0.0139 391.74 579.98)" font-size="200" fill="#d671c6" font-weight="bold">W</text>
<text transform="matrix(0.0552 0 0 0.0198 391.74 577.86)" font-size="200" fill="#1c2a9a">K</text>
<text transform="matrix(0.0599 0 0 0.0085 399.68 583)" font-size="200" fill="#0b9a48" font-weight="bold">L</text>
<text transform="matrix(0.1304 0 0 0.0124 399.68 581.63)" font-size="200" fill="#0b9a48" font-weight="bold">I</text>
<text transform="matrix(0.0507 0 0 0.0156 399.68 579.72)" font-size="200" fill="#27aae1" font-weight="bold">H</text>
<text transform="matrix(0.0507 0 0 0.0268 399.68 577.37)" font-size="200" fill="#1c2a9a">R</text>
<text transform="matrix(0.0545 0 0 0.0317 399.68 573.47)" font-size="200" fill="#6d6e71">A</text>
<text transform="matrix(0.0544 0 0 0.0092 407.58 583)" font-size="200" fill="#176fa6" font-weight="bold">F</text>
<text transform="matrix(0.0499 0 0 0.0143 407.58 581.53)" font-size="200" fill="#1c75bc" font-weight="bold">Y</text>
<text transform="matrix(0.1185 0 0 0.0121 407.58 579.36)" font-size="200" fill="#0b9a48" font-weight="bold">I</text>
<text transform="matrix(0.0599 0 0 0.0066 414.82 583)" font-size="200" fill="#176fa6" font-weight="bold">F</text>
<text transform="matrix(0.0508 0 0 0.0116 414.82 581.87)" font-size="200" fill="#e3d800" font-weight="bold">C</text>
<text transform="matrix(0.0508 0 0 0.0115 414.82 580.05)" font-size="200" fill="#ed1c24" font-weight="bold">D</text>
<text transform="matrix(0.0508 0 0 0.0204 414.82 578.26)" font-size="200" fill="#27aae1">N</text>
<text transform="matrix(0.0550 0 0 0.0226 414.82 575.25)" font-size="200" fill="#1c75bc">Y</text>
<text transform="matrix(0.0491 0 0 0.0084 422.73 583)" font-size="200" fill="#ed1c24" font-weight="bold">E</text>
<text transform="matrix(0.0491 0 0 0.0088 422.73 581.64)" font-size="200" fill="#0b9a48" font-weight="bold">V</text>
<text transform="matrix(0.0491 0 0 0.0215 422.73 580.22)" font-size="200" fill="#1c2a9a">K</text>
<text transform="matrix(0.0454 0 0 0.0233 422.73 577.01)" font-size="200" fill="#e3d800">C</text>
<text transform="matrix(0.0419 0 0 0.0194 422.73 572.81)" font-size="200" fill="#00aeef">Q</text>
<text transform="matrix(0.0500 0 0 0.0075 429.86 583)" font-size="200" fill="#1c75bc" font-weight="bold">Y</text>
<text transform="matrix(0.0462 0 0 0.0150 429.86 581.77)" font-size="200" fill="#6d6e71" font-weight="bold">A</text>
<text transform="matrix(0.0462 0 0 0.0182 429.86 579.46)" font-size="200" fill="#e3d800">C</text>
<text transform="matrix(0.0500 0 0 0.0292 429.86 576.71)" font-size="200" fill="#1c75bc">Y</text>
<text transform="matrix(0.0497 0 0 0.0323 429.86 572.49)" font-size="200" fill="#6d6e71">A</text>
<text transform="matrix(0.0510 0 0 0.0058 449.3 583)" font-size="200" fill="#6d6e71" font-weight="bold">A</text>
<text transform="matrix(0.0552 0 0 0.0098 449.3 581.99)" font-size="200" fill="#0b9a48" font-weight="bold">V</text>
<text transform="matrix(0.0504 0 0 0.0083 457.25 583)" font-size="200" fill="#1c2a9a" font-weight="bold">K</text>
<text transform="matrix(0.0504 0 0 0.0104 457.25 581.66)" font-size="200" fill="#1c2a9a" font-weight="bold">R</text>
<text transform="matrix(0.0504 0 0 0.0153 457.25 580.02)" font-size="200" fill="#27aae1" font-weight="bold">H</text>
<text transform="matrix(0.1297 0 0 0.0181 457.25 577.71)" font-size="200" fill="#0b9a48">I</text>
<text transform="matrix(0.0546 0 0 0.0289 457.25 575.01)" font-size="200" fill="#0b9a48">V</text>
<text transform="matrix(0.0465 0 0 0.0084 465.11 583)" font-size="200" fill="#27aae1" font-weight="bold">N</text>
<text transform="matrix(0.0429 0 0 0.0080 465.11 581.32)" font-size="200" fill="#00aeef" font-weight="bold">Q</text>
<text transform="matrix(0.0429 0 0 0.0130 465.11 579.5)" font-size="200" fill="#00aeef" font-weight="bold">Q</text>
<text transform="matrix(0.0503 0 0 0.0202 465.11 577.47)" font-size="200" fill="#f7964f">P</text>
<text transform="matrix(0.0429 0 0 0.0210 465.11 573.68)" font-size="200" fill="#00aeef">Q</text>
<text transform="matrix(0.0511 0 0 0.0089 472.4 583)" font-size="200" fill="#1c75bc" font-weight="bold">Y</text>
<text transform="matrix(0.0435 0 0 0.0119 472.4 581.54)" font-size="200" fill="#9a9c9e" font-weight="bold">G</text>
<text transform="matrix(0.0444 0 0 0.0078 479.79 582.98)" font-size="200" fill="#9a9c9e" font-weight="bold">G</text>
<text transform="matrix(0.0567 0 0 0.0108 479.79 581.69)" font-size="200" fill="#176fa6" font-weight="bold">F</text>
<text transform="matrix(0.0166 0 0 0.0090 487.31 583)" font-size="200" fill="#27aae1" font-weight="bold">H</text>
<text transform="matrix(0.0153 0 0 0.0070 487.31 581.28)" font-size="200" fill="#00aeef" font-weight="bold">Q</text>
<text transform="matrix(0.0196 0 0 0.0222 487.31 580.11)" font-size="200" fill="#f47b20">T</text>
<text transform="matrix(0.0215 0 0 0.0225 487.31 576.84)" font-size="200" fill="#0b9a48">L</text>
<text transform="matrix(0.0180 0 0 0.0236 487.31 573.54)" font-size="200" fill="#1c75bc">Y</text>
<text transform="matrix(0.0641 0 0 0.1496 77.5 573.45)" font-size="200" fill="#b9bbbd">G</text>
<text transform="matrix(0.0631 0 0 0.0634 89.25 572.5)" font-size="200" fill="#0b9a48">L</text>
<text transform="matrix(0.0729 0 0 0.3442 97.5 583)" font-size="200" fill="#1c2a9a">R</text>
<text transform="matrix(0.0658 0 0 0.0651 118.75 571.12)" font-size="200" fill="#f47b20">S</text>
<text transform="matrix(0.0639 0 0 0.1902 128.5 575)" font-size="200" fill="#ed1c24">E</text>
<text transform="matrix(0.0729 0 0 0.2083 157 573.75)" font-size="200" fill="#27aae1">H</text>
<text transform="matrix(0.0653 0 0 0.1268 179 572.5)" font-size="200" fill="#0b9a48">L</text>
<text transform="matrix(0.0694 0 0 0.3406 188 582.5)" font-size="200" fill="#1c2a9a">R</text>
<text transform="matrix(0.0642 0 0 0.1540 198.25 575)" font-size="200" fill="#27aae1">H</text>
<text transform="matrix(0.0758 0 0 0.0815 208.25 571.25)" font-size="200" fill="#f47b20">T</text>
<text transform="matrix(0.0802 0 0 0.1685 228 573.75)" font-size="200" fill="#808285">A</text>
<text transform="matrix(0.0639 0 0 0.0792 239 566.09)" font-size="200" fill="#f47b20">S</text>
<text transform="matrix(0.0615 0 0 0.0815 240 577.5)" font-size="200" fill="#f47b20">T</text>
<text transform="matrix(0.0641 0 0 0.1761 278.75 573.4)" font-size="200" fill="#b9bbbd">G</text>
<text transform="matrix(0.0564 0 0 0.0362 300 567.5)" font-size="200" fill="#f9a66c">P</text>
<text transform="matrix(0.0521 0 0 0.0326 300 572.5)" font-size="200" fill="#ed1c24">D</text>
<text transform="matrix(0.0721 0 0 0.1268 329.5 571.25)" font-size="200" fill="#0b9a48">L</text>
<text transform="matrix(0.0641 0 0 0.1408 338.75 574.72)" font-size="200" fill="#b9bbbd">G</text>
<text transform="matrix(0.0677 0 0 0.2446 349 575)" font-size="200" fill="#27aae1">H</text>
<text transform="matrix(0.0658 0 0 0.0616 368.75 571.13)" font-size="200" fill="#f47b20">S</text>
<text transform="matrix(0.0674 0 0 0.0598 397.5 571.25)" font-size="200" fill="#e8e100">M</text>
<text transform="matrix(0.0799 0 0 0.1178 409 570)" font-size="200" fill="#f47b20">T</text>
<text transform="matrix(0.0827 0 0 0.3514 438 583)" font-size="200" fill="#15689e">Y</text>
<text transform="matrix(0.0677 0 0 0.1123 459 575)" font-size="200" fill="#27aae1">H</text>
<text x="154.25" y="802.5" font-size="18" fill="#ec1c24" style='font-family:"Liberation Sans", sans-serif' textLength="51.25" lengthAdjust="spacingAndGlyphs" >dsDNA</text>
<text x="460.5" y="851.25" font-size="18" fill="#0b9a48" style='font-family:"Liberation Sans", sans-serif' textLength="48.25" lengthAdjust="spacingAndGlyphs" >ssDNA</text>
<text x="352" y="902.7" font-size="14" fill="#2a2a2a" style='font-family:"Liberation Sans", sans-serif' textLength="21" lengthAdjust="spacing" >0.4</text>
<polyline points="346.25,888.5 380.5,888.5" stroke="#303030" stroke-width="1.15" fill="none" stroke-linejoin="round" stroke-linecap="butt"/>
<polyline points="363.25,589.5 361.25,700 360,730" stroke="#ec1c24" stroke-width="2" fill="none" stroke-linejoin="round" stroke-linecap="butt"/>
<polyline points="376.25,585.5 362,716.25" stroke="#ec1c24" stroke-width="2" fill="none" stroke-linejoin="round" stroke-linecap="butt"/>
<polyline points="360,730 357.5,745 365,767.5" stroke="#8c8e90" stroke-width="2.13" fill="none" stroke-linejoin="round" stroke-linecap="butt"/>
<polyline points="273.75,667 347.5,730 357.5,745.5" stroke="#141414" stroke-width="2.13" fill="none" stroke-linejoin="round" stroke-linecap="butt"/>
<path d="M310 653.75L340.5 715.5M320 662L343.75 720.5M313.75 665L319 673.25M333.75 682.5L346.25 727.5M314.5 688.25L338.75 712.5M318 687.5L340 716.25M350.75 669.5L356.25 733M347.5 689.25L353.75 722.5M378 652.5L362.5 726.25M379.5 659.5L374.25 674M304.5 719.5L361.25 759.5" stroke="#141414" stroke-width="2.13" fill="none"/>
<polyline points="405,670.5 366.25,767.5 339.5,845" stroke="#141414" stroke-width="2.26" fill="none" stroke-linejoin="round" stroke-linecap="butt"/>
<polyline points="215.5,715.5 320,760 348,770.75" stroke="#ec1c24" stroke-width="2" fill="none" stroke-linejoin="round" stroke-linecap="butt"/>
<path d="M289.5 730.5L355 768.75M228.75 738.25L305 765M214.5 743.25L282.5 760.5M194.75 744.25L281.25 759.75M223 757.5L282.5 759.5M282.5 760L336.25 771.25M251.25 780.75L340 771.25M215.5 797L317.5 777.5M212 806.75L300 782.5M218.75 815L287.5 788M160.5 849.5L275 791.25M317.5 777.5L340 771.75M275 791.25L317.5 777.5" stroke="#ec1c24" stroke-width="2" fill="none"/>
<polyline points="336.25,771.25 351.5,770.75" stroke="#ec1c24" stroke-width="2" fill="none" stroke-linejoin="round" stroke-linecap="butt"/>
<polyline points="351,770.75 365,767.5" stroke="#8c8e90" stroke-width="2.13" fill="none" stroke-linejoin="round" stroke-linecap="butt"/>
<polyline points="350,771.25 302.5,821.25 287.5,835" stroke="#8c8e90" stroke-width="2.13" fill="none" stroke-linejoin="round" stroke-linecap="butt"/>
<polyline points="365,767.5 375,771.25 380,780 383.75,790 385,805 388,865" stroke="#8c8e90" stroke-width="2.13" fill="none" stroke-linejoin="round" stroke-linecap="butt"/>
<polyline points="375,771.25 380.25,767.5" stroke="#8c8e90" stroke-width="2.13" fill="none" stroke-linejoin="round" stroke-linecap="butt"/>
<path d="M315 812.5L292.5 851.75M302.5 821.25L238.75 861.75M300 825L265.5 860M186.25 910.5L300 825M384.5 811.25L370.75 865" stroke="#ec1c24" stroke-width="2" fill="none"/>
<path d="M296.25 828.75L265 867" stroke="#141414" stroke-width="2.13" fill="none"/>
<polyline points="380,767.5 392.5,762.5 417.5,753.75" stroke="#8c8e90" stroke-width="2.13" fill="none" stroke-linejoin="round" stroke-linecap="butt"/>
<path d="M382.5 765L429.5 673M385 763.75L435.5 678.75M397.5 757.5L475 671.75M400 756.25L463.25 693.75M402.5 757.5L455 709.5M420 752.5L498.25 719.25M405 758.75L464.25 745.75M405 762.5L498.75 753M406.25 763.75L495 758.75M406.25 764.5L481.25 771.25M408.75 765L480.75 779.25M420 802.5L461.75 816.25M425 805L460 817.5M430 808.75L455 822M382.5 790L457.5 882.5M385 796.25L425 852.5M390 815L416.25 880M384.5 811.25L380 830M388.75 865L388 876.25" stroke="#ec1c24" stroke-width="2" fill="none"/>
<path d="M395 758.75L436.25 703M417.5 753L505.75 696.25M383.75 790L473.25 873M392.5 820L428.25 890.5M389.5 871.25L390 876.25" stroke="#141414" stroke-width="2.26" fill="none"/>
<polyline points="380,781.25 420,802.5" stroke="#8c8e90" stroke-width="2.13" fill="none" stroke-linejoin="round" stroke-linecap="butt"/>
<polyline points="430,808.75 459.25,831.25" stroke="#0b9a48" stroke-width="2.26" fill="none" stroke-linejoin="round" stroke-linecap="butt"/>
<text x="665" y="487.5" font-size="27.5" fill="#141414" style='font-family:"Liberation Sans", sans-serif' textLength="220.5" lengthAdjust="spacingAndGlyphs" >D. Hema esterase</text>
<text x="770.5" y="523.75" font-size="14.5" fill="#f26522" style='font-family:"Liberation Sans", sans-serif' textLength="103.75" lengthAdjust="spacingAndGlyphs" >negative strand</text>
<text x="801.75" y="543.75" font-size="14.5" fill="#f26522" style='font-family:"Liberation Sans", sans-serif' textLength="40.5" lengthAdjust="spacingAndGlyphs" >ssRNA</text>
<text x="921" y="812.5" font-size="14.5" fill="#2a55a8" style='font-family:"Liberation Sans", sans-serif' textLength="98.25" lengthAdjust="spacingAndGlyphs" >positive strand</text>
<text x="949.25" y="831.75" font-size="14.5" fill="#2a55a8" style='font-family:"Liberation Sans", sans-serif' textLength="41.25" lengthAdjust="spacingAndGlyphs" >ssRNA</text>
<text x="912.5" y="596.25" font-size="13.5" fill="#141414" style='font-family:"Liberation Sans", sans-serif' textLength="21" lengthAdjust="spacingAndGlyphs" >100</text>
<text x="849.5" y="881.4" font-size="14" fill="#2a2a2a" style='font-family:"Liberation Sans", sans-serif' textLength="22.5" lengthAdjust="spacing" >0.5</text>
<polyline points="838.5,864.5 885,864.5" stroke="#303030" stroke-width="1.15" fill="none" stroke-linejoin="round" stroke-linecap="butt"/>
<text x="462" y="655.5" font-size="12" fill="#141414" style='font-family:"Liberation Mono", monospace' textLength="28" lengthAdjust="spacingAndGlyphs" >logo</text>
<path d="M539.6 594.5L539.6 609.12" stroke="#141414" stroke-width="2.3" fill="none"/>
<path d="M539.6 618.2L532.2 601.7Q537.01 605 539.6 606.32Q542.19 605 547 601.7Z" fill="#141414"/>
<path d="M642.1 594.5L642.1 609.12" stroke="#141414" stroke-width="2.3" fill="none"/>
<path d="M642.1 618.2L634.7 601.7Q639.51 605 642.1 606.32Q644.69 605 649.5 601.7Z" fill="#141414"/>
<path d="M702.4 594.5L702.4 609.12" stroke="#141414" stroke-width="2.3" fill="none"/>
<path d="M702.4 618.2L695 601.7Q699.81 605 702.4 606.32Q704.99 605 709.8 601.7Z" fill="#141414"/>
<path d="M771 594.5L771 609.12" stroke="#141414" stroke-width="2.3" fill="none"/>
<path d="M771 618.2L763.6 601.7Q768.41 605 771 606.32Q773.59 605 778.4 601.7Z" fill="#141414"/>
<path d="M858 594.5L858 609.12" stroke="#141414" stroke-width="2.3" fill="none"/>
<path d="M858 618.2L850.6 601.7Q855.41 605 858 606.32Q860.59 605 865.4 601.7Z" fill="#141414"/>
<path d="M888 594.5L888 609.12" stroke="#141414" stroke-width="2.3" fill="none"/>
<path d="M888 618.2L880.6 601.7Q885.41 605 888 606.32Q890.59 605 895.4 601.7Z" fill="#141414"/>
<text x="511" y="634.92" font-size="9.5" fill="#141414" text-anchor="end" font-family='"Liberation Sans", sans-serif'>4</text>
<text x="511" y="645.04" font-size="9.5" fill="#141414" text-anchor="end" font-family='"Liberation Sans", sans-serif'>3</text>
<text x="511" y="655.17" font-size="9.5" fill="#141414" text-anchor="end" font-family='"Liberation Sans", sans-serif'>2</text>
<text x="511" y="665.29" font-size="9.5" fill="#141414" text-anchor="end" font-family='"Liberation Sans", sans-serif'>1</text>
<path d="M512.8 672L516 672L516 631.5M516 631.5L512.8 631.5M516 641.62L512.8 641.62M516 651.75L512.8 651.75M516 661.88L512.8 661.88" stroke="#141414" stroke-width="1.2" fill="none"/>
<polyline points="883,498 920.5,647" stroke="#f26522" stroke-width="1.45" fill="none" stroke-linejoin="round" stroke-linecap="butt"/>
<polyline points="971.75,562 963,582.5 920.5,647 918,680 915.5,711" stroke="#1447a6" stroke-width="1.45" fill="none" stroke-linejoin="round" stroke-linecap="butt"/>
<polyline points="963,582.5 969.25,576.25" stroke="#1447a6" stroke-width="1.45" fill="none" stroke-linejoin="round" stroke-linecap="butt"/>
<polyline points="917.25,690 904.75,838.75 911,862.5 913,880.5 952.25,888.25" stroke="#1447a6" stroke-width="1.45" fill="none" stroke-linejoin="round" stroke-linecap="butt"/>
<polyline points="911.75,864.25 917.5,861.25" stroke="#1447a6" stroke-width="1.45" fill="none" stroke-linejoin="round" stroke-linecap="butt"/>
<polyline points="913,880.5 906.25,895 908,903.25" stroke="#1447a6" stroke-width="1.45" fill="none" stroke-linejoin="round" stroke-linecap="butt"/>
<polyline points="946,883.75 948,887.5" stroke="#1447a6" stroke-width="1.2" fill="none" stroke-linejoin="round" stroke-linecap="butt"/>
<polyline points="906.25,895 908,893.75" stroke="#1447a6" stroke-width="1.2" fill="none" stroke-linejoin="round" stroke-linecap="butt"/>
<text transform="matrix(0.0604 0 0 0.2873 518.89 672.04)" font-size="200" fill="#176fa6">F</text>
<text transform="matrix(0.0545 0 0 0.2692 526.82 671.5)" font-size="200" fill="#b9bbbd">G</text>
<text transform="matrix(0.0570 0 0 0.2873 535.6 672.04)" font-size="200" fill="#ed1c24">D</text>
<text transform="matrix(0.0618 0 0 0.2792 544.09 671.48)" font-size="200" fill="#f47b20">S</text>
<text transform="matrix(0.0570 0 0 0.2873 552.87 672.04)" font-size="200" fill="#1c2a9a">R</text>
<text transform="matrix(0.0575 0 0 0.2094 561.65 664.54)" font-size="200" fill="#f47b20">S</text>
<text transform="matrix(0.0532 0 0 0.0513 562.22 672.04)" font-size="200" fill="#1c75bc">Y</text>
<text transform="matrix(0.0669 0 0 0.2873 569.58 672.04)" font-size="200" fill="#ed1c24">D</text>
<text transform="matrix(0.0492 0 0 0.2194 579.49 667.36)" font-size="200" fill="#f1e500">C</text>
<text transform="matrix(0.0551 0 0 0.1950 587.14 667.79)" font-size="200" fill="#27aae1">N</text>
<text transform="matrix(0.0551 0 0 0.1950 595.64 667.79)" font-size="200" fill="#27aae1">H</text>
<text transform="matrix(0.0703 0 0 0.1847 604.13 670.63)" font-size="200" fill="#0b9a48">Y</text>
<text transform="matrix(0.0703 0 0 0.2360 622.54 667.79)" font-size="200" fill="#1c2a9a">K</text>
<text transform="matrix(0.0556 0 0 0.2052 634.15 667.79)" font-size="200" fill="#0b9a48">I</text>
<text transform="matrix(0.0639 0 0 0.2194 639.53 667.36)" font-size="200" fill="#f47b20">S</text>
<text transform="matrix(0.0468 0 0 0.1496 648.31 661.83)" font-size="200" fill="#f47b20">S</text>
<text transform="matrix(0.0639 0 0 0.1539 655.11 660.71)" font-size="200" fill="#1c2a9a">K</text>
<text transform="matrix(0.0571 0 0 0.0410 647.46 668.36)" font-size="200" fill="#808285">A</text>
<text transform="matrix(0.0511 0 0 0.0638 656.53 670.5)" font-size="200" fill="#f47b20">S</text>
<text transform="matrix(0.0511 0 0 0.2873 674.65 672.04)" font-size="200" fill="#ed1c24">E</text>
<text transform="matrix(0.0545 0 0 0.2433 682.01 667.87)" font-size="200" fill="#b9bbbd">G</text>
<text transform="matrix(0.0660 0 0 0.2463 690.51 667.79)" font-size="200" fill="#0b9a48">V</text>
<text transform="matrix(0.0649 0 0 0.2873 699.29 672.04)" font-size="200" fill="#27aae1">N</text>
<text transform="matrix(0.0627 0 0 0.2257 708.92 666.38)" font-size="200" fill="#176fa6">F</text>
<text transform="matrix(0.0557 0 0 0.1170 717.98 660.71)" font-size="200" fill="#f47b20">T</text>
<text transform="matrix(0.0426 0 0 0.0519 718.83 668.26)" font-size="200" fill="#f47b20">S</text>
<text transform="matrix(0.0596 0 0 0.2360 725.34 664.96)" font-size="200" fill="#f9a66c">P</text>
<text transform="matrix(0.0551 0 0 0.1642 742.9 663.55)" font-size="200" fill="#27aae1">N</text>
<text transform="matrix(0.0551 0 0 0.1642 751.12 663.55)" font-size="200" fill="#27aae1">N</text>
<text transform="matrix(0.0613 0 0 0.1026 759.61 663.55)" font-size="200" fill="#808285">A</text>
<text transform="matrix(0.0590 0 0 0.2360 768.11 667.79)" font-size="200" fill="#1c2a9a">R</text>
<text transform="matrix(0.0561 0 0 0.0815 776.75 656.4)" font-size="200" fill="#00aeef">Q</text>
<text transform="matrix(0.0597 0 0 0.0489 777 666.25)" font-size="200" fill="#808285">A</text>
<text transform="matrix(0.0526 0 0 0.2993 786 670.65)" font-size="200" fill="#f47b20">S</text>
<text transform="matrix(0.0642 0 0 0.3080 793.25 671.25)" font-size="200" fill="#ed1c24">D</text>
<text transform="matrix(0.0556 0 0 0.0996 803 660)" font-size="200" fill="#27aae1">N</text>
<text transform="matrix(0.0554 0 0 0.1087 811.25 660)" font-size="200" fill="#e8e100">M</text>
<text transform="matrix(0.0594 0 0 0.1087 820.75 660)" font-size="200" fill="#f47b20">T</text>
<text transform="matrix(0.0564 0 0 0.0453 837.5 658.75)" font-size="200" fill="#0b9a48">V</text>
<text transform="matrix(0.0658 0 0 0.1540 845.5 665)" font-size="200" fill="#1c75bc">Y</text>
<text transform="matrix(0.0590 0 0 0.2717 854.5 670)" font-size="200" fill="#ed1c24">D</text>
<text transform="matrix(0.0536 0 0 0.1268 866.25 662.5)" font-size="200" fill="#0b9a48">I</text>
<text transform="matrix(0.0504 0 0 0.0507 864.25 667.5)" font-size="200" fill="#808285">A</text>
<text transform="matrix(0.0538 0 0 0.2355 871.75 670)" font-size="200" fill="#27aae1">N</text>
<text transform="matrix(0.0608 0 0 0.3080 880 671.25)" font-size="200" fill="#27aae1">H</text>
<text transform="matrix(0.0497 0 0 0.2905 889.25 670.67)" font-size="200" fill="#b9bbbd">G</text>
<text transform="matrix(0.0556 0 0 0.3080 897.5 671.25)" font-size="200" fill="#ed1c24">D</text>
<text transform="matrix(0.0508 0 0 0.0380 837.5 664.5)" font-size="200" fill="#1c2a9a">K</text>
<text transform="matrix(0.0620 0 0 0.0405 846 666.92)" font-size="200" fill="#f47b20">S</text>
<text transform="matrix(0.0536 0 0 0.0417 805.5 666.25)" font-size="200" fill="#27aae1">I</text>
<text transform="matrix(0.0489 0 0 0.0405 812.5 666.17)" font-size="200" fill="#f47b20">S</text>
<text transform="matrix(0.0536 0 0 0.0417 823 666.25)" font-size="200" fill="#0b9a48">I</text>
<text transform="matrix(0.0393 0 0 0.0246 580.06 672.04)" font-size="200" fill="#6a5acd" font-weight="bold">K</text>
<text transform="matrix(0.0534 0 0 0.0246 587.71 672.04)" font-size="200" fill="#27aae1" font-weight="bold">T</text>
<text transform="matrix(0.0532 0 0 0.0246 596.2 672.04)" font-size="200" fill="#1c75bc" font-weight="bold">Y</text>
<text transform="matrix(0.0511 0 0 0.0246 623.11 672.04)" font-size="200" fill="#0b9a48" font-weight="bold">L</text>
<text transform="matrix(0.0532 0 0 0.0239 631.6 671.99)" font-size="200" fill="#f47b20" font-weight="bold">S</text>
<text transform="matrix(0.0492 0 0 0.0179 640.1 672.01)" font-size="200" fill="#a7a9ac" font-weight="bold">C</text>
<text transform="matrix(0.0363 0 0 0.0179 648.6 672.01)" font-size="200" fill="#a7a9ac" font-weight="bold">G</text>
<text transform="matrix(0.0534 0 0 0.0246 691.64 672.04)" font-size="200" fill="#0b9a48" font-weight="bold">L</text>
<text transform="matrix(0.0375 0 0 0.0328 709.48 672.04)" font-size="200" fill="#d671c6" font-weight="bold">W</text>
<text transform="matrix(0.0452 0 0 0.0246 717.98 672.04)" font-size="200" fill="#27aae1" font-weight="bold">N</text>
<text transform="matrix(0.0575 0 0 0.0279 742.9 668.02)" font-size="200" fill="#f47b20" font-weight="bold">S</text>
<text transform="matrix(0.0650 0 0 0.0287 751.12 668.08)" font-size="200" fill="#0b9a48" font-weight="bold">L</text>
<text transform="matrix(0.0492 0 0 0.0239 742.9 671.99)" font-size="200" fill="#a7a9ac" font-weight="bold">C</text>
<text transform="matrix(0.0554 0 0 0.0246 751.12 672.04)" font-size="200" fill="#ed1c24" font-weight="bold">E</text>
<text transform="matrix(0.0596 0 0 0.0246 759.61 672.04)" font-size="200" fill="#ed1c24" font-weight="bold">E</text>
<text transform="matrix(0.0511 0 0 0.0246 768.67 672.04)" font-size="200" fill="#ed1c24" font-weight="bold">K</text>
<text transform="matrix(0.0375 0 0 0.0062 774.3 671)" font-size="200" fill="#27aae1" font-weight="bold">H</text>
<text transform="matrix(0.0375 0 0 0.0083 774.3 669.94)" font-size="200" fill="#6d6e71" font-weight="bold">A</text>
<text transform="matrix(0.0486 0 0 0.0326 803.5 671.25)" font-size="200" fill="#ed1c24" font-weight="bold">D</text>
<text transform="matrix(0.0521 0 0 0.0326 812 671.25)" font-size="200" fill="#808285" font-weight="bold">A</text>
<text transform="matrix(0.0489 0 0 0.0326 821 671.25)" font-size="200" fill="#0b9a48" font-weight="bold">V</text>
<text transform="matrix(0.0512 0 0 0.0272 838 671.25)" font-size="200" fill="#f47b20" font-weight="bold">Z</text>
<text transform="matrix(0.0449 0 0 0.0272 846 671.25)" font-size="200" fill="#a7a9ac" font-weight="bold">M</text>
<text transform="matrix(0.0486 0 0 0.0236 855.5 671.25)" font-size="200" fill="#ed1c24" font-weight="bold">N</text>
<text transform="matrix(0.0401 0 0 0.0229 864.25 671.2)" font-size="200" fill="#ed1c24" font-weight="bold">G</text>
<text transform="matrix(0.0521 0 0 0.0181 871.75 671.25)" font-size="200" fill="#ed1c24" font-weight="bold">D</text>
<text transform="matrix(0.0469 0 0 0.0308 769.25 671.25)" font-size="200" fill="#ed1c24" font-weight="bold">K</text>
<text transform="matrix(0.0526 0 0 0.0308 777.5 671.25)" font-size="200" fill="#ed1c24" font-weight="bold">E</text>
<text x="115.5" y="956.25" font-size="27.5" fill="#141414" style='font-family:"Liberation Sans", sans-serif' textLength="162.5" lengthAdjust="spacingAndGlyphs" >E. OrfB IS605</text>
<text x="53" y="1063" font-size="18" fill="#ec1c24" style='font-family:"Liberation Sans", sans-serif' textLength="57" lengthAdjust="spacingAndGlyphs" >dsDNA</text>
<text x="45.5" y="1273.75" font-size="18" fill="#0b9a48" style='font-family:"Liberation Sans", sans-serif' textLength="53.25" lengthAdjust="spacingAndGlyphs" >ssDNA</text>
<text x="228.5" y="1323.9" font-size="14" fill="#2a2a2a" style='font-family:"Liberation Sans", sans-serif' textLength="22.3" lengthAdjust="spacing" >0.6</text>
<polyline points="216.75,1308.75 262.5,1308.75" stroke="#303030" stroke-width="1.15" fill="none" stroke-linejoin="round" stroke-linecap="butt"/>
<polyline points="136.25,1018 145,1031.25 207.5,1150" stroke="#141414" stroke-width="2.13" fill="none" stroke-linejoin="round" stroke-linecap="butt"/>
<polyline points="175,1012.5 178,1031.25 207.25,1149" stroke="#ec1c24" stroke-width="2" fill="none" stroke-linejoin="round" stroke-linecap="butt"/>
<polyline points="112.5,1083 157.5,1140 198.75,1187.5" stroke="#ec1c24" stroke-width="2" fill="none" stroke-linejoin="round" stroke-linecap="butt"/>
<polyline points="117,1100.5 157.5,1140" stroke="#ec1c24" stroke-width="2" fill="none" stroke-linejoin="round" stroke-linecap="butt"/>
<polyline points="51.25,1098.75 178.75,1198.75" stroke="#ec1c24" stroke-width="2" fill="none" stroke-linejoin="round" stroke-linecap="butt"/>
<polyline points="152.5,1215.5 162.5,1211.25 180,1198.75 200,1187.5 218.75,1179.5 235,1176.25" stroke="#8c8e90" stroke-width="2.13" fill="none" stroke-linejoin="round" stroke-linecap="butt"/>
<polyline points="207.5,1150.25 218.75,1179.5" stroke="#8c8e90" stroke-width="2.13" fill="none" stroke-linejoin="round" stroke-linecap="butt"/>
<path d="M15 1195L147.5 1215.5M15 1200.5L75 1204.5M87.5 1185.75L140 1213.75M86.25 1195L130 1210M90 1190.5L120 1202.5" stroke="#141414" stroke-width="2.13" fill="none"/>
<polyline points="29.5,1235 140,1218.75 152.5,1215.5" stroke="#ec1c24" stroke-width="2" fill="none" stroke-linejoin="round" stroke-linecap="butt"/>
<path d="M27 1240.5L75 1232.5M61.25 1237.5L105 1226.25M82.5 1239.5L125 1222.5" stroke="#ec1c24" stroke-width="2" fill="none"/>
<polyline points="152.5,1215.5 107.5,1241.25" stroke="#8c8e90" stroke-width="2.13" fill="none" stroke-linejoin="round" stroke-linecap="butt"/>
<polyline points="107.5,1241.25 89.5,1252" stroke="#0b9a48" stroke-width="2.26" fill="none" stroke-linejoin="round" stroke-linecap="butt"/>
<polyline points="98.75,1248.75 105,1244.25" stroke="#141414" stroke-width="2" fill="none" stroke-linejoin="round" stroke-linecap="butt"/>
<polyline points="152.5,1215.5 147.5,1235 143.75,1245" stroke="#8c8e90" stroke-width="2.13" fill="none" stroke-linejoin="round" stroke-linecap="butt"/>
<polyline points="145,1240 119.25,1386.25" stroke="#ec1c24" stroke-width="2" fill="none" stroke-linejoin="round" stroke-linecap="butt"/>
<path d="M115.5 1267L142.5 1235M115.5 1277.5L145 1236.25M122.5 1280L146.25 1237.5M130.75 1287.5L146.25 1240" stroke="#141414" stroke-width="2.13" fill="none"/>
<polyline points="118.75,1258 140,1236.25" stroke="#ec1c24" stroke-width="2" fill="none" stroke-linejoin="round" stroke-linecap="butt"/>
<polyline points="162.5,1212 163,1240" stroke="#8c8e90" stroke-width="2.13" fill="none" stroke-linejoin="round" stroke-linecap="butt"/>
<path d="M163 1240L166.75 1306.25M163 1222.5L179.5 1314.5" stroke="#141414" stroke-width="2.13" fill="none"/>
<polyline points="162,1245 158.25,1306.25" stroke="#ec1c24" stroke-width="2" fill="none" stroke-linejoin="round" stroke-linecap="butt"/>
<polyline points="235,1176.25 255,1185.75 285,1198.75 293.75,1204.5 302.5,1213.75 331.25,1227.5" stroke="#8c8e90" stroke-width="2.13" fill="none" stroke-linejoin="round" stroke-linecap="butt"/>
<polyline points="235.5,1176.25 243.75,1160 250,1140 253.75,1122.5 257,1085 258.75,1056.25" stroke="#141414" stroke-width="2.13" fill="none" stroke-linejoin="round" stroke-linecap="butt"/>
<path d="M243.75 1160L296.75 1129.25M248.75 1147.5L309.5 1097.5M265 1132.5L306.25 1085M286.25 1101.25L304.5 1082.5M253.75 1122.5L276.25 1074.5M249.25 1070L252.5 1120M261.75 1067L254.5 1115M263.75 1093.75L258.75 1110M245.5 1180.5L321.25 1146.25M255 1185.75L284.25 1279.5M286.25 1198.75L326.25 1186.25M293.75 1204.5L398 1205.5M317.5 1205.5L398.75 1213M293.75 1204.5L395.5 1230.75M360 1205L380 1202.5M376.25 1202.5L380 1204.5M302.5 1213.75L325 1245M307.5 1220L335 1248M315 1230L333.75 1242.5M317.5 1233.75L326.25 1245M332.5 1227L345.5 1233.75" stroke="#141414" stroke-width="2.13" fill="none"/>
<polyline points="331.25,1227.5 346.25,1236.75" stroke="#ec1c24" stroke-width="2.26" fill="none" stroke-linejoin="round" stroke-linecap="butt"/>
<text x="431" y="957.5" font-size="27.5" fill="#141414" style='font-family:"Liberation Sans", sans-serif' textLength="166" lengthAdjust="spacingAndGlyphs" >F. MMTV SAg</text>
<text x="404.7" y="1035.2" font-size="17" fill="#6f2f9f" style='font-family:"Liberation Sans", sans-serif' textLength="17.1" lengthAdjust="spacingAndGlyphs" >RT</text>
<text x="574.4" y="1264.25" font-size="13.5" fill="#141414" style='font-family:"Liberation Sans", sans-serif' textLength="22.5" lengthAdjust="spacingAndGlyphs" >100</text>
<text x="571.2" y="1322" font-size="10.5" fill="#2a2a2a" style='font-family:"Liberation Sans", sans-serif' textLength="17.6" lengthAdjust="spacing" >0.6</text>
<polyline points="561.25,1311.4 598.75,1311.4" stroke="#303030" stroke-width="1.15" fill="none" stroke-linejoin="round" stroke-linecap="butt"/>
<text x="616.75" y="1328.75" font-size="17" fill="#ef4123" style='font-family:"Liberation Sans", sans-serif' textLength="48.75" lengthAdjust="spacingAndGlyphs" >dsDNA</text>
<polyline points="382.7,1032.7 384.6,1037 508.75,1160.75" stroke="#8c8e90" stroke-width="1.25" fill="none" stroke-linejoin="round" stroke-linecap="butt"/>
<polyline points="508.75,1160.75 632.6,1284.5 704.6,1314.5" stroke="#ec1c24" stroke-width="1.29" fill="none" stroke-linejoin="round" stroke-linecap="butt"/>
<polyline points="383.2,1032.6 386.6,1029 389.3,1023.75" stroke="#6f2f9f" stroke-width="1.93" fill="none" stroke-linejoin="round" stroke-linecap="butt"/>
<polyline points="382,1032.6 378.5,1030.3 375.2,1028.4" stroke="#6f2f9f" stroke-width="1.93" fill="none" stroke-linejoin="round" stroke-linecap="butt"/>
<polyline points="378.4,1027.8 379.2,1030.2" stroke="#6f2f9f" stroke-width="1.2" fill="none" stroke-linejoin="round" stroke-linecap="butt"/>
<polyline points="374,1036.25 381.8,1033.2" stroke="#141414" stroke-width="1.86" fill="none" stroke-linejoin="round" stroke-linecap="butt"/>
<text x="795" y="956.5" font-size="27.5" fill="#141414" style='font-family:"Liberation Sans", sans-serif' textLength="115" lengthAdjust="spacingAndGlyphs" >G. HSP70</text>
<text x="835" y="1098" font-size="17.5" fill="#ef4123" style='font-family:"Liberation Sans", sans-serif' textLength="48.75" lengthAdjust="spacingAndGlyphs" >dsDNA</text>
<text x="869.25" y="1350.5" font-size="14.5" fill="#2a55a8" style='font-family:"Liberation Sans", sans-serif' textLength="98.75" lengthAdjust="spacingAndGlyphs" >positive strand</text>
<text x="897.5" y="1370.5" font-size="14.5" fill="#2a55a8" style='font-family:"Liberation Sans", sans-serif' textLength="41.25" lengthAdjust="spacingAndGlyphs" >ssRNA</text>
<text x="864.25" y="1206.25" font-size="14.5" fill="#141414" style='font-family:"Liberation Sans", sans-serif' textLength="15" lengthAdjust="spacingAndGlyphs" >90</text>
<text x="875" y="1295.5" font-size="10.5" fill="#2a2a2a" style='font-family:"Liberation Sans", sans-serif' textLength="17.5" lengthAdjust="spacing" >0.5</text>
<polyline points="864.25,1284.25 903.75,1284.25" stroke="#303030" stroke-width="1.15" fill="none" stroke-linejoin="round" stroke-linecap="butt"/>
<polyline points="790,1092.5 851.25,1030 881.25,987.5" stroke="#141414" stroke-width="1.15" fill="none" stroke-linejoin="round" stroke-linecap="butt"/>
<path d="M851.25 1030L890 989.5M851.25 1030L903.25 994.25M860 1020L871.25 1005M810 1118.75L820 1156.25" stroke="#141414" stroke-width="1.15" fill="none"/>
<polyline points="792.5,1088.75 827.5,1013.25" stroke="#ec1c24" stroke-width="1.25" fill="none" stroke-linejoin="round" stroke-linecap="butt"/>
<polyline points="787.5,1095 810,1118.75 858.75,1167.5" stroke="#8c8e90" stroke-width="1.25" fill="none" stroke-linejoin="round" stroke-linecap="butt"/>
<polyline points="704.44,1073.16 730.47,1083.95 741.89,1085.86 752.05,1083.95 783.15,1095 787.6,1095.38" stroke="#141414" stroke-width="1.15" fill="none" stroke-linejoin="round" stroke-linecap="butt"/>
<polyline points="706.98,1087.38 731.74,1085.22 741.89,1085.86" stroke="#141414" stroke-width="1.15" fill="none" stroke-linejoin="round" stroke-linecap="butt"/>
<polyline points="724.76,1103.38 738.09,1090.94 743.16,1086.49" stroke="#141414" stroke-width="1.15" fill="none" stroke-linejoin="round" stroke-linecap="butt"/>
<polyline points="691.75,1168.25 749.51,1085.86 752.05,1083.95" stroke="#141414" stroke-width="1.15" fill="none" stroke-linejoin="round" stroke-linecap="butt"/>
<polyline points="741.64,1036.09 751.42,1078.88 752.05,1083.95" stroke="#141414" stroke-width="1.15" fill="none" stroke-linejoin="round" stroke-linecap="butt"/>
<path d="M708.89 1077.23L725.39 1082.05M713.33 1082.69L731.74 1084.59M719.68 1090.68L738.09 1085.86M725.39 1097.92L740.62 1087.13M731.74 1092.21L736.82 1089.67M741.26 1101.73L744.43 1093.48M726.91 1058.95L751.42 1080.78M729.83 1064.28L738.09 1068.09M737.45 1058.18L748.88 1073.16M743.8 1062.37L748.24 1070.62M752.05 1045.23L750.78 1073.16M750.15 1047.14L750.53 1068.09M757.38 1055.01L751.42 1074.43M782.52 1103.63L784.04 1117.6M781.88 1108.71L779.98 1120.77M793.94 1096.01L818.7 1086.49M800.29 1094.75L812.35 1090.94M801.56 1094.11L809.18 1092.21" stroke="#141414" stroke-width="1.15" fill="none"/>
<polyline points="783.15,1095.38 782.52,1106.17 777.44,1124.58" stroke="#141414" stroke-width="1.15" fill="none" stroke-linejoin="round" stroke-linecap="butt"/>
<path d="M794.58 1096.27L823.78 1098.93M795.85 1101.35L819.97 1108.08" stroke="#ec1c24" stroke-width="1.25" fill="none"/>
<polyline points="787.6,1095.38 791.66,1089.92" stroke="#8c8e90" stroke-width="1.1" fill="none" stroke-linejoin="round" stroke-linecap="butt"/>
<polyline points="825.5,1135 859.25,1167.5" stroke="#8c8e90" stroke-width="1.25" fill="none" stroke-linejoin="round" stroke-linecap="butt"/>
<polyline points="859.25,1167.5 1001.75,1233.75" stroke="#ec1c24" stroke-width="1.25" fill="none" stroke-linejoin="round" stroke-linecap="butt"/>
<polyline points="859.25,1167.5 885.5,1200 911.75,1225 950.5,1257.5 1004.25,1295" stroke="#1447a6" stroke-width="1.25" fill="none" stroke-linejoin="round" stroke-linecap="butt"/>
<path d="M885.5 1200L941.75 1321.25M911.75 1225L998.5 1350" stroke="#1447a6" stroke-width="1.25" fill="none"/>
</svg>
</body></html>
